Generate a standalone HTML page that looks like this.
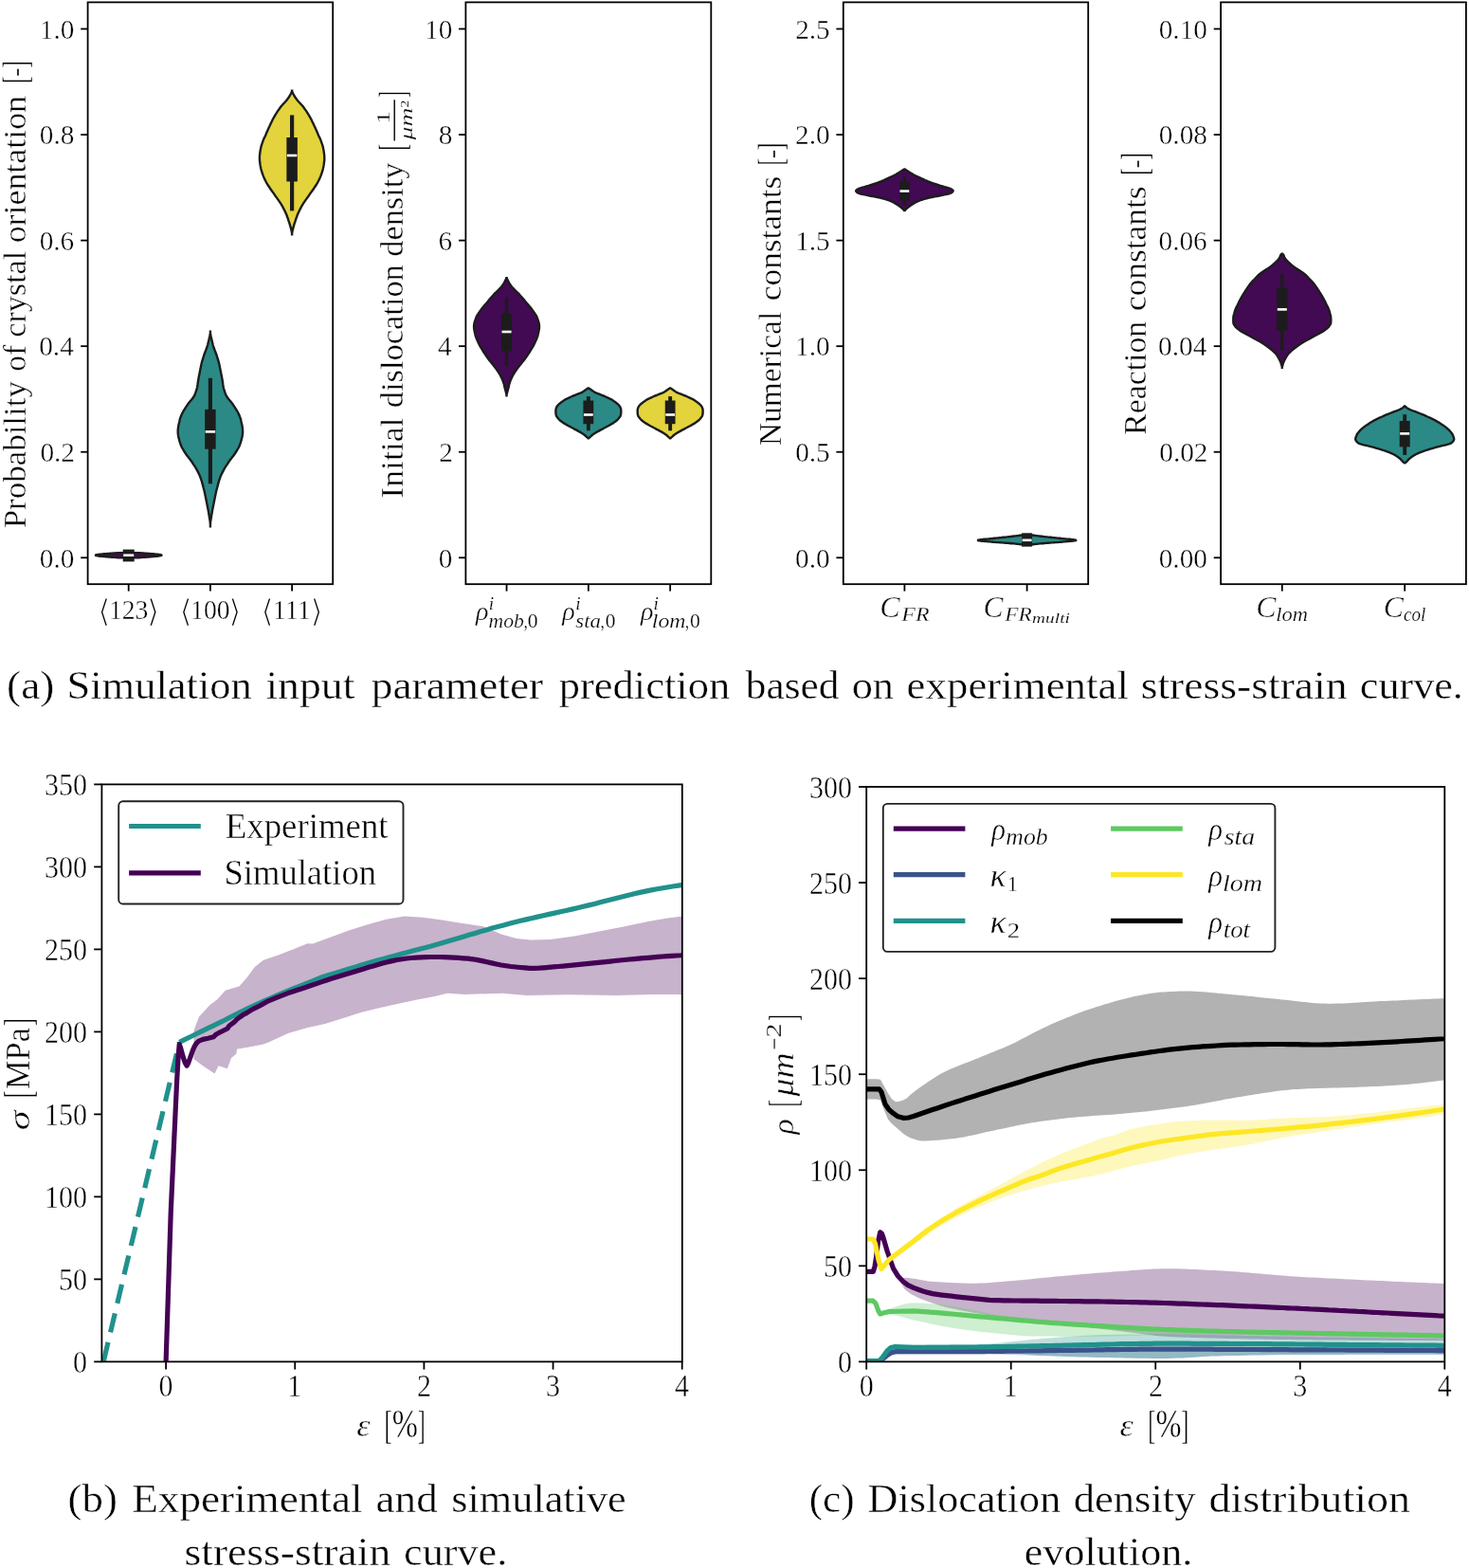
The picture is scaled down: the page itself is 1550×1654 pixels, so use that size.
<!DOCTYPE html>
<html lang="en"><head><meta charset="utf-8"><title>Figure</title>
<style>html,body{margin:0;padding:0;background:#fff;overflow:hidden}svg{display:block}text{white-space:pre}</style></head>
<body>
<svg width="1550" height="1654" viewBox="0 0 1550 1654" font-family="'Liberation Serif','DejaVu Serif',serif" fill="#000">
<style>text{stroke:#fff;paint-order:fill stroke;stroke-linejoin:round}</style>
<rect width="1550" height="1654" fill="#fff"/>
<g id="top-ticks">
<line x1="85.2" y1="588.3" x2="92.6" y2="588.3" stroke="#000" stroke-width="1.8"/>
<text font-size="29.3" transform="translate(41.87 598.6) scale(1 1)" stroke-width="0.41">0.0</text>
<line x1="85.2" y1="476.74" x2="92.6" y2="476.74" stroke="#000" stroke-width="1.8"/>
<text font-size="29.3" transform="translate(42.39 487.04) scale(1 1)" stroke-width="0.41">0.2</text>
<line x1="85.2" y1="365.18" x2="92.6" y2="365.18" stroke="#000" stroke-width="1.8"/>
<text font-size="29.3" transform="translate(41.21 375.48) scale(1 1)" stroke-width="0.41">0.4</text>
<line x1="85.2" y1="253.62" x2="92.6" y2="253.62" stroke="#000" stroke-width="1.8"/>
<text font-size="29.3" transform="translate(41.65 263.92) scale(1 1)" stroke-width="0.41">0.6</text>
<line x1="85.2" y1="142.06" x2="92.6" y2="142.06" stroke="#000" stroke-width="1.8"/>
<text font-size="29.3" transform="translate(41.87 152.36) scale(1 1)" stroke-width="0.41">0.8</text>
<line x1="85.2" y1="30.5" x2="92.6" y2="30.5" stroke="#000" stroke-width="1.8"/>
<text font-size="29.3" transform="translate(41.87 40.8) scale(1 1)" stroke-width="0.41">1.0</text>
<line x1="135.7" y1="616.2" x2="135.7" y2="623.6" stroke="#000" stroke-width="1.8"/>
<line x1="221.9" y1="616.2" x2="221.9" y2="623.6" stroke="#000" stroke-width="1.8"/>
<line x1="308.1" y1="616.2" x2="308.1" y2="623.6" stroke="#000" stroke-width="1.8"/>
<line x1="484" y1="588.3" x2="491.4" y2="588.3" stroke="#000" stroke-width="1.8"/>
<text font-size="29.3" transform="translate(462.65 598.6) scale(1 1)" stroke-width="0.41">0</text>
<line x1="484" y1="476.74" x2="491.4" y2="476.74" stroke="#000" stroke-width="1.8"/>
<text font-size="29.3" transform="translate(463.16 487.04) scale(1 1)" stroke-width="0.41">2</text>
<line x1="484" y1="365.18" x2="491.4" y2="365.18" stroke="#000" stroke-width="1.8"/>
<text font-size="29.3" transform="translate(461.99 375.48) scale(1 1)" stroke-width="0.41">4</text>
<line x1="484" y1="253.62" x2="491.4" y2="253.62" stroke="#000" stroke-width="1.8"/>
<text font-size="29.3" transform="translate(462.43 263.92) scale(1 1)" stroke-width="0.41">6</text>
<line x1="484" y1="142.06" x2="491.4" y2="142.06" stroke="#000" stroke-width="1.8"/>
<text font-size="29.3" transform="translate(462.65 152.36) scale(1 1)" stroke-width="0.41">8</text>
<line x1="484" y1="30.5" x2="491.4" y2="30.5" stroke="#000" stroke-width="1.8"/>
<text font-size="29.3" transform="translate(448 40.8) scale(1 1)" stroke-width="0.41">10</text>
<line x1="534.55" y1="616.2" x2="534.55" y2="623.6" stroke="#000" stroke-width="1.8"/>
<line x1="620.85" y1="616.2" x2="620.85" y2="623.6" stroke="#000" stroke-width="1.8"/>
<line x1="707.15" y1="616.2" x2="707.15" y2="623.6" stroke="#000" stroke-width="1.8"/>
<line x1="882.4" y1="588.3" x2="889.8" y2="588.3" stroke="#000" stroke-width="1.8"/>
<text font-size="29.3" transform="translate(839.07 598.6) scale(1 1)" stroke-width="0.41">0.0</text>
<line x1="882.4" y1="476.74" x2="889.8" y2="476.74" stroke="#000" stroke-width="1.8"/>
<text font-size="29.3" transform="translate(839.15 487.04) scale(1 1)" stroke-width="0.41">0.5</text>
<line x1="882.4" y1="365.18" x2="889.8" y2="365.18" stroke="#000" stroke-width="1.8"/>
<text font-size="29.3" transform="translate(839.07 375.48) scale(1 1)" stroke-width="0.41">1.0</text>
<line x1="882.4" y1="253.62" x2="889.8" y2="253.62" stroke="#000" stroke-width="1.8"/>
<text font-size="29.3" transform="translate(839.15 263.92) scale(1 1)" stroke-width="0.41">1.5</text>
<line x1="882.4" y1="142.06" x2="889.8" y2="142.06" stroke="#000" stroke-width="1.8"/>
<text font-size="29.3" transform="translate(839.07 152.36) scale(1 1)" stroke-width="0.41">2.0</text>
<line x1="882.4" y1="30.5" x2="889.8" y2="30.5" stroke="#000" stroke-width="1.8"/>
<text font-size="29.3" transform="translate(839.15 40.8) scale(1 1)" stroke-width="0.41">2.5</text>
<line x1="954.4" y1="616.2" x2="954.4" y2="623.6" stroke="#000" stroke-width="1.8"/>
<line x1="1083.6" y1="616.2" x2="1083.6" y2="623.6" stroke="#000" stroke-width="1.8"/>
<line x1="1280.7" y1="588.3" x2="1288.1" y2="588.3" stroke="#000" stroke-width="1.8"/>
<text font-size="29.3" transform="translate(1222.72 598.6) scale(1 1)" stroke-width="0.41">0.00</text>
<line x1="1280.7" y1="476.74" x2="1288.1" y2="476.74" stroke="#000" stroke-width="1.8"/>
<text font-size="29.3" transform="translate(1223.24 487.04) scale(1 1)" stroke-width="0.41">0.02</text>
<line x1="1280.7" y1="365.18" x2="1288.1" y2="365.18" stroke="#000" stroke-width="1.8"/>
<text font-size="29.3" transform="translate(1222.06 375.48) scale(1 1)" stroke-width="0.41">0.04</text>
<line x1="1280.7" y1="253.62" x2="1288.1" y2="253.62" stroke="#000" stroke-width="1.8"/>
<text font-size="29.3" transform="translate(1222.5 263.92) scale(1 1)" stroke-width="0.41">0.06</text>
<line x1="1280.7" y1="142.06" x2="1288.1" y2="142.06" stroke="#000" stroke-width="1.8"/>
<text font-size="29.3" transform="translate(1222.72 152.36) scale(1 1)" stroke-width="0.41">0.08</text>
<line x1="1280.7" y1="30.5" x2="1288.1" y2="30.5" stroke="#000" stroke-width="1.8"/>
<text font-size="29.3" transform="translate(1222.72 40.8) scale(1 1)" stroke-width="0.41">0.10</text>
<line x1="1352.8" y1="616.2" x2="1352.8" y2="623.6" stroke="#000" stroke-width="1.8"/>
<line x1="1482.2" y1="616.2" x2="1482.2" y2="623.6" stroke="#000" stroke-width="1.8"/>
</g>
<g id="violins">
<path d="M135.7 583L126.4 583.1L125.3 583.2L124.2 583.2L123.1 583.3L122 583.4L120.9 583.5L119.8 583.5L118.7 583.6L117.5 583.7L116.4 583.8L115.3 583.9L114.3 583.9L113.3 584L112.4 584.1L111.4 584.2L110.5 584.3L109.6 584.3L108.7 584.4L107.8 584.5L106.9 584.6L106.1 584.6L105.4 584.7L104.7 584.8L104.1 584.9L103.5 585L103.1 585L102.7 585.1L102.3 585.2L101.9 585.3L101.5 585.3L101.2 585.4L101 585.5L100.8 585.6L100.7 585.7L100.7 585.7L100.8 585.8L101 585.9L101.2 586L101.5 586.1L101.9 586.1L102.3 586.2L102.7 586.3L103.1 586.4L103.5 586.4L104.1 586.5L104.7 586.6L105.4 586.7L106.1 586.8L106.9 586.8L107.8 586.9L108.7 587L109.6 587.1L110.5 587.1L111.4 587.2L112.4 587.3L113.3 587.4L114.3 587.5L115.3 587.5L116.4 587.6L117.5 587.7L118.7 587.8L119.8 587.9L120.9 587.9L122 588L123.1 588.1L124.2 588.2L125.3 588.2L126.4 588.3L135.7 588.4L145 588.3L146.1 588.2L147.2 588.2L148.3 588.1L149.4 588L150.5 587.9L151.6 587.9L152.7 587.8L153.9 587.7L155 587.6L156.1 587.5L157.1 587.5L158.1 587.4L159 587.3L160 587.2L160.9 587.1L161.8 587.1L162.7 587L163.6 586.9L164.5 586.8L165.3 586.8L166 586.7L166.7 586.6L167.3 586.5L167.9 586.4L168.3 586.4L168.7 586.3L169.1 586.2L169.5 586.1L169.9 586.1L170.2 586L170.4 585.9L170.6 585.8L170.7 585.7L170.7 585.7L170.6 585.6L170.4 585.5L170.2 585.4L169.9 585.3L169.5 585.3L169.1 585.2L168.7 585.1L168.3 585L167.9 585L167.3 584.9L166.7 584.8L166 584.7L165.3 584.6L164.5 584.6L163.6 584.5L162.7 584.4L161.8 584.3L160.9 584.3L160 584.2L159 584.1L158.1 584L157.1 583.9L156.1 583.9L155 583.8L153.9 583.7L152.7 583.6L151.6 583.5L150.5 583.5L149.4 583.4L148.3 583.3L147.2 583.2L146.1 583.2L145 583.1Z" fill="#420a52" stroke="#1c1c1c" stroke-width="2.4" stroke-linejoin="bevel"/>
<rect x="129.7" y="579.6" width="12" height="12.8" fill="#1c1c1c"/>
<rect x="130.2" y="584.4" width="11" height="2.6" fill="#fff"/>
<path d="M221.9 348.4L221.9 351.4L221.3 354.4L220.6 357.5L219.9 360.5L219.2 363.5L218.3 366.5L217.2 369.5L216 372.5L215 375.5L214 378.6L213.1 381.6L212.4 384.6L211.8 387.6L211.2 390.6L210.6 393.6L210 396.6L209.4 399.7L208.9 402.7L208.5 405.7L208 408.7L207.2 411.7L206.2 414.7L204.9 417.7L202.8 420.7L200.2 423.8L197.9 426.8L195.9 429.8L194 432.8L192.4 435.8L191 438.8L189.9 441.8L189.2 444.9L188.5 447.9L188 450.9L187.7 453.9L187.7 456.9L188.1 459.9L188.8 462.9L189.6 465.9L190.6 469L191.9 472L193.7 475L195.6 478L197.7 481L200.1 484L202.3 487L204.3 490.1L206.3 493.1L208 496.1L209.5 499.1L210.9 502.1L212 505.1L213 508.1L213.8 511.1L214.6 514.2L215.4 517.2L216.1 520.2L216.7 523.2L217.3 526.2L217.9 529.2L218.5 532.2L219.1 535.3L219.7 538.3L220.2 541.3L220.7 544.3L221.2 547.3L221.7 550.3L221.9 553.3L221.9 556.4L221.9 553.3L222.1 550.3L222.6 547.3L223.1 544.3L223.6 541.3L224.1 538.3L224.7 535.3L225.3 532.2L225.9 529.2L226.5 526.2L227.1 523.2L227.7 520.2L228.4 517.2L229.2 514.2L230 511.1L230.8 508.1L231.8 505.1L232.9 502.1L234.3 499.1L235.8 496.1L237.5 493.1L239.5 490.1L241.5 487L243.7 484L246.1 481L248.2 478L250.1 475L251.9 472L253.2 469L254.2 465.9L255 462.9L255.7 459.9L256.1 456.9L256.1 453.9L255.8 450.9L255.3 447.9L254.6 444.9L253.9 441.8L252.8 438.8L251.4 435.8L249.8 432.8L247.9 429.8L245.9 426.8L243.6 423.8L241 420.7L238.9 417.7L237.6 414.7L236.6 411.7L235.8 408.7L235.3 405.7L234.9 402.7L234.4 399.7L233.8 396.6L233.2 393.6L232.6 390.6L232 387.6L231.4 384.6L230.7 381.6L229.8 378.6L228.8 375.5L227.8 372.5L226.6 369.5L225.5 366.5L224.6 363.5L223.9 360.5L223.2 357.5L222.5 354.4L221.9 351.4Z" fill="#2b8a86" stroke="#1c1c1c" stroke-width="2.4" stroke-linejoin="bevel"/>
<line x1="221.9" y1="398.8" x2="221.9" y2="510.3" stroke="#1c1c1c" stroke-width="4.2"/>
<rect x="216.15" y="431.9" width="11.5" height="41.8" fill="#1c1c1c"/>
<rect x="216.65" y="454.1" width="10.5" height="2.6" fill="#fff"/>
<path d="M308.1 94.6L307.9 96.8L306.8 99L305.6 101.3L304.1 103.5L302.4 105.7L300.5 108L298.4 110.2L296.4 112.4L294.8 114.7L293.2 116.9L291.8 119.1L290.4 121.4L289.1 123.6L287.9 125.8L286.8 128.1L285.7 130.3L284.7 132.5L283.6 134.7L282.6 137L281.6 139.2L280.7 141.4L279.7 143.7L278.6 145.9L277.7 148.1L276.9 150.4L276.1 152.6L275.5 154.8L275 157.1L274.6 159.3L274.3 161.5L274 163.8L273.9 166L273.9 168.2L274.1 170.5L274.4 172.7L274.7 174.9L275.2 177.2L275.7 179.4L276.4 181.6L277.1 183.8L278 186.1L278.9 188.3L280 190.5L281.2 192.8L282.5 195L284 197.2L285.5 199.5L287.1 201.7L288.7 203.9L290.2 206.2L291.8 208.4L293.4 210.6L295 212.9L296.5 215.1L297.8 217.3L299 219.6L300.1 221.8L301.2 224L302.2 226.2L303 228.5L303.8 230.7L304.5 232.9L305.3 235.2L306 237.4L306.6 239.6L307.2 241.9L307.7 244.1L308.1 246.3L308.1 248.6L308.1 246.3L308.5 244.1L309 241.9L309.6 239.6L310.2 237.4L310.9 235.2L311.7 232.9L312.4 230.7L313.2 228.5L314 226.2L315 224L316.1 221.8L317.2 219.6L318.4 217.3L319.7 215.1L321.2 212.9L322.8 210.6L324.4 208.4L326 206.2L327.5 203.9L329.1 201.7L330.7 199.5L332.2 197.2L333.7 195L335 192.8L336.2 190.5L337.3 188.3L338.2 186.1L339.1 183.8L339.8 181.6L340.5 179.4L341 177.2L341.5 174.9L341.8 172.7L342.1 170.5L342.3 168.2L342.3 166L342.2 163.8L341.9 161.5L341.6 159.3L341.2 157.1L340.7 154.8L340.1 152.6L339.3 150.4L338.5 148.1L337.6 145.9L336.5 143.7L335.5 141.4L334.6 139.2L333.6 137L332.6 134.7L331.5 132.5L330.5 130.3L329.4 128.1L328.3 125.8L327.1 123.6L325.8 121.4L324.4 119.1L323 116.9L321.4 114.7L319.8 112.4L317.8 110.2L315.7 108L313.8 105.7L312.1 103.5L310.6 101.3L309.4 99L308.3 96.8Z" fill="#e3d33c" stroke="#1c1c1c" stroke-width="2.4" stroke-linejoin="bevel"/>
<line x1="308.1" y1="121.4" x2="308.1" y2="222.4" stroke="#1c1c1c" stroke-width="4.2"/>
<rect x="302.35" y="145" width="11.5" height="46.5" fill="#1c1c1c"/>
<rect x="302.85" y="162.7" width="10.5" height="2.6" fill="#fff"/>
<path d="M534.5 292.4L534 294.2L533.1 296L532.2 297.8L531.1 299.7L529.9 301.5L528.4 303.3L526.6 305.2L524.7 307L522.8 308.8L521 310.7L519.4 312.5L517.8 314.3L516.3 316.1L514.8 318L513.3 319.8L511.7 321.6L510.1 323.5L508.6 325.3L507.3 327.1L506 329L504.7 330.8L503.5 332.6L502.6 334.4L501.9 336.3L501.3 338.1L500.7 339.9L500.3 341.8L500.1 343.6L500.1 345.4L500.3 347.3L500.6 349.1L501 350.9L501.4 352.7L501.8 354.6L502.5 356.4L503.2 358.2L504.1 360.1L504.9 361.9L505.8 363.7L506.8 365.6L507.9 367.4L509 369.2L510.1 371L511.3 372.9L512.5 374.7L513.8 376.5L515.1 378.4L516.5 380.2L518 382L519.5 383.9L521 385.7L522.3 387.5L523.7 389.3L525 391.2L526.2 393L527.3 394.8L528.3 396.7L529.2 398.5L530 400.3L530.8 402.2L531.4 404L531.9 405.8L532.3 407.7L532.7 409.5L533.2 411.3L533.7 413.1L534.2 415L534.5 416.8L534.5 418.6L534.5 416.8L534.9 415L535.4 413.1L535.9 411.3L536.4 409.5L536.8 407.7L537.2 405.8L537.7 404L538.3 402.2L539.1 400.3L539.9 398.5L540.8 396.7L541.8 394.8L542.9 393L544.1 391.2L545.4 389.3L546.8 387.5L548.1 385.7L549.6 383.9L551.1 382L552.6 380.2L554 378.4L555.3 376.5L556.6 374.7L557.8 372.9L559 371L560.1 369.2L561.2 367.4L562.3 365.6L563.3 363.7L564.2 361.9L565 360.1L565.9 358.2L566.6 356.4L567.3 354.6L567.7 352.7L568.1 350.9L568.5 349.1L568.8 347.3L569 345.4L569 343.6L568.8 341.8L568.4 339.9L567.8 338.1L567.2 336.3L566.5 334.4L565.6 332.6L564.4 330.8L563.1 329L561.8 327.1L560.5 325.3L559 323.5L557.4 321.6L555.8 319.8L554.3 318L552.8 316.1L551.3 314.3L549.7 312.5L548.1 310.7L546.3 308.8L544.4 307L542.5 305.2L540.7 303.3L539.2 301.5L538 299.7L536.9 297.8L536 296L535.1 294.2Z" fill="#420a52" stroke="#1c1c1c" stroke-width="2.4" stroke-linejoin="bevel"/>
<line x1="534.55" y1="313.5" x2="534.55" y2="386.5" stroke="#1c1c1c" stroke-width="3.4"/>
<rect x="529.05" y="330.7" width="11" height="39.8" fill="#1c1c1c"/>
<rect x="529.55" y="348.7" width="10" height="2.6" fill="#fff"/>
<path d="M620.8 409.2L619.7 410L618.6 410.8L617.5 411.5L616.5 412.3L615.3 413.1L614 413.9L612.3 414.6L610.3 415.4L608.3 416.2L606.4 417L604.5 417.7L602.7 418.5L600.9 419.3L599.2 420.1L597.6 420.8L596.2 421.6L594.9 422.4L593.8 423.2L592.7 423.9L591.8 424.7L590.8 425.5L589.9 426.2L589.1 427L588.4 427.8L587.8 428.6L587.3 429.3L587 430.1L586.7 430.9L586.6 431.7L586.4 432.4L586.4 433.2L586.4 434L586.4 434.8L586.4 435.5L586.5 436.3L586.6 437.1L586.8 437.9L587 438.6L587.4 439.4L588 440.2L588.6 440.9L589.2 441.7L589.9 442.5L590.7 443.3L591.6 444L592.6 444.8L593.7 445.6L594.9 446.4L596.2 447.1L597.5 447.9L598.9 448.7L600.3 449.5L601.8 450.2L603.2 451L604.7 451.8L606.1 452.6L607.6 453.3L609 454.1L610.4 454.9L611.8 455.6L613.2 456.4L614.5 457.2L615.6 458L616.6 458.7L617.5 459.5L618.4 460.3L619.3 461.1L620.1 461.8L620.8 462.6L621.6 461.8L622.4 461.1L623.3 460.3L624.2 459.5L625.1 458.7L626.1 458L627.2 457.2L628.5 456.4L629.9 455.6L631.3 454.9L632.7 454.1L634.1 453.3L635.6 452.6L637 451.8L638.5 451L639.9 450.2L641.4 449.5L642.8 448.7L644.2 447.9L645.5 447.1L646.8 446.4L648 445.6L649.1 444.8L650.1 444L651 443.3L651.8 442.5L652.5 441.7L653.1 440.9L653.7 440.2L654.3 439.4L654.7 438.6L654.9 437.9L655.1 437.1L655.2 436.3L655.3 435.5L655.3 434.8L655.3 434L655.3 433.2L655.3 432.4L655.1 431.7L655 430.9L654.7 430.1L654.4 429.3L653.9 428.6L653.3 427.8L652.6 427L651.8 426.2L650.9 425.5L649.9 424.7L649 423.9L647.9 423.2L646.8 422.4L645.5 421.6L644.1 420.8L642.5 420.1L640.8 419.3L639 418.5L637.2 417.7L635.3 417L633.4 416.2L631.4 415.4L629.4 414.6L627.7 413.9L626.4 413.1L625.2 412.3L624.2 411.5L623.1 410.8L622 410Z" fill="#2b8a86" stroke="#1c1c1c" stroke-width="2.4" stroke-linejoin="bevel"/>
<line x1="620.85" y1="418.1" x2="620.85" y2="454.3" stroke="#1c1c1c" stroke-width="3.9"/>
<rect x="615.45" y="422.5" width="10.8" height="24.7" fill="#1c1c1c"/>
<rect x="615.95" y="436.2" width="9.8" height="2.6" fill="#fff"/>
<path d="M707.1 409.2L706 410L704.9 410.8L703.8 411.5L702.8 412.3L701.6 413.1L700.3 413.9L698.6 414.6L696.6 415.4L694.6 416.2L692.7 417L690.8 417.7L689 418.5L687.2 419.3L685.5 420.1L683.9 420.8L682.5 421.6L681.2 422.4L680.1 423.2L679 423.9L678.1 424.7L677.1 425.5L676.2 426.2L675.4 427L674.7 427.8L674.1 428.6L673.6 429.3L673.3 430.1L673 430.9L672.9 431.7L672.7 432.4L672.7 433.2L672.7 434L672.7 434.8L672.7 435.5L672.8 436.3L672.9 437.1L673.1 437.9L673.3 438.6L673.7 439.4L674.3 440.2L674.9 440.9L675.5 441.7L676.2 442.5L677 443.3L677.9 444L678.9 444.8L680 445.6L681.2 446.4L682.5 447.1L683.8 447.9L685.2 448.7L686.6 449.5L688.1 450.2L689.5 451L691 451.8L692.4 452.6L693.9 453.3L695.3 454.1L696.7 454.9L698.1 455.6L699.5 456.4L700.8 457.2L701.9 458L702.9 458.7L703.8 459.5L704.7 460.3L705.6 461.1L706.4 461.8L707.1 462.6L707.9 461.8L708.7 461.1L709.6 460.3L710.5 459.5L711.4 458.7L712.4 458L713.5 457.2L714.8 456.4L716.2 455.6L717.6 454.9L719 454.1L720.4 453.3L721.9 452.6L723.3 451.8L724.8 451L726.2 450.2L727.7 449.5L729.1 448.7L730.5 447.9L731.8 447.1L733.1 446.4L734.3 445.6L735.4 444.8L736.4 444L737.3 443.3L738.1 442.5L738.8 441.7L739.4 440.9L740 440.2L740.6 439.4L741 438.6L741.2 437.9L741.4 437.1L741.5 436.3L741.6 435.5L741.6 434.8L741.6 434L741.6 433.2L741.6 432.4L741.4 431.7L741.3 430.9L741 430.1L740.7 429.3L740.2 428.6L739.6 427.8L738.9 427L738.1 426.2L737.2 425.5L736.2 424.7L735.3 423.9L734.2 423.2L733.1 422.4L731.8 421.6L730.4 420.8L728.8 420.1L727.1 419.3L725.3 418.5L723.5 417.7L721.6 417L719.7 416.2L717.7 415.4L715.7 414.6L714 413.9L712.7 413.1L711.5 412.3L710.5 411.5L709.4 410.8L708.3 410Z" fill="#e3d33c" stroke="#1c1c1c" stroke-width="2.4" stroke-linejoin="bevel"/>
<line x1="707.15" y1="418.1" x2="707.15" y2="454.3" stroke="#1c1c1c" stroke-width="3.9"/>
<rect x="701.75" y="422.5" width="10.8" height="24.7" fill="#1c1c1c"/>
<rect x="702.25" y="436.2" width="9.8" height="2.6" fill="#fff"/>
<path d="M954.4 178.4L953.2 179L952.3 179.7L951.3 180.3L950.3 181L949.3 181.6L948.3 182.2L947.2 182.9L946.1 183.5L945 184.2L943.8 184.8L942.5 185.5L941.1 186.1L939.7 186.8L938.3 187.4L936.9 188L935.5 188.7L934.1 189.3L932.7 190L931.2 190.6L929.7 191.3L928.1 191.9L926.4 192.6L924.6 193.2L922.7 193.8L920.7 194.5L918.7 195.1L916.6 195.8L914.5 196.4L912.3 197.1L910.1 197.7L908.1 198.3L906.2 199L904.7 199.6L903.9 200.3L903.3 200.9L903.1 201.6L903.5 202.2L904.3 202.9L905.2 203.5L906.7 204.1L909.2 204.8L912.4 205.4L915.5 206.1L918.8 206.7L922.4 207.4L925.7 208L928.5 208.7L931.1 209.3L933.5 209.9L935.6 210.6L937.5 211.2L939.2 211.9L940.6 212.5L942 213.2L943.2 213.8L944.4 214.5L945.5 215.1L946.5 215.7L947.5 216.4L948.5 217L949.4 217.7L950.2 218.3L951 219L951.7 219.6L952.4 220.2L953.1 220.9L953.7 221.5L954.2 222.2L954.4 222.8L954.6 222.2L955.1 221.5L955.7 220.9L956.4 220.2L957.1 219.6L957.8 219L958.6 218.3L959.4 217.7L960.3 217L961.3 216.4L962.3 215.7L963.3 215.1L964.4 214.5L965.6 213.8L966.8 213.2L968.2 212.5L969.6 211.9L971.3 211.2L973.2 210.6L975.3 209.9L977.7 209.3L980.3 208.7L983.1 208L986.4 207.4L990 206.7L993.3 206.1L996.4 205.4L999.6 204.8L1002.1 204.1L1003.6 203.5L1004.5 202.9L1005.3 202.2L1005.7 201.6L1005.5 200.9L1004.9 200.3L1004.1 199.6L1002.6 199L1000.7 198.3L998.7 197.7L996.5 197.1L994.3 196.4L992.2 195.8L990.1 195.1L988.1 194.5L986.1 193.8L984.2 193.2L982.4 192.6L980.7 191.9L979.1 191.3L977.6 190.6L976.1 190L974.7 189.3L973.3 188.7L971.9 188L970.5 187.4L969.1 186.8L967.7 186.1L966.3 185.5L965 184.8L963.8 184.2L962.7 183.5L961.6 182.9L960.5 182.2L959.5 181.6L958.5 181L957.5 180.3L956.5 179.7L955.6 179Z" fill="#420a52" stroke="#1c1c1c" stroke-width="2.4" stroke-linejoin="bevel"/>
<line x1="954.4" y1="186.5" x2="954.4" y2="216.5" stroke="#1c1c1c" stroke-width="3.4"/>
<rect x="949" y="191.3" width="10.8" height="20.1" fill="#1c1c1c"/>
<rect x="949.5" y="200.3" width="9.8" height="2.6" fill="#fff"/>
<path d="M1083.6 564.4L1077.9 564.5L1076.9 564.7L1075.9 564.8L1074.8 565L1073.7 565.1L1072.5 565.3L1071.4 565.4L1070.2 565.5L1069 565.7L1067.8 565.8L1066.5 566L1065.2 566.1L1063.9 566.3L1062.6 566.4L1061.2 566.6L1059.8 566.7L1058.4 566.8L1057 567L1055.5 567.1L1054.1 567.3L1052.7 567.4L1051.4 567.6L1050 567.7L1048.7 567.8L1047.4 568L1046 568.1L1044.5 568.3L1042.9 568.4L1041.3 568.6L1039.8 568.7L1038.2 568.8L1036.8 569L1035.4 569.1L1034.2 569.3L1033.2 569.4L1032.4 569.6L1031.9 569.7L1031.6 569.9L1031.7 570L1032.1 570.1L1032.8 570.3L1033.7 570.4L1034.9 570.6L1036.3 570.7L1037.8 570.9L1039.4 571L1041 571.1L1042.7 571.3L1044.4 571.4L1045.9 571.6L1047.5 571.7L1049.2 571.9L1051.1 572L1053.1 572.1L1055.2 572.3L1057.3 572.4L1059.3 572.6L1061.4 572.7L1063.3 572.9L1065.1 573L1066.8 573.2L1068.4 573.3L1070 573.4L1071.5 573.6L1073 573.7L1074.4 573.9L1075.7 574L1077 574.2L1083.6 574.3L1090.2 574.2L1091.5 574L1092.8 573.9L1094.2 573.7L1095.7 573.6L1097.2 573.4L1098.8 573.3L1100.4 573.2L1102.1 573L1103.9 572.9L1105.8 572.7L1107.9 572.6L1109.9 572.4L1112 572.3L1114.1 572.1L1116.1 572L1118 571.9L1119.7 571.7L1121.3 571.6L1122.8 571.4L1124.5 571.3L1126.2 571.1L1127.8 571L1129.4 570.9L1130.9 570.7L1132.3 570.6L1133.5 570.4L1134.4 570.3L1135.1 570.1L1135.5 570L1135.6 569.9L1135.3 569.7L1134.8 569.6L1134 569.4L1133 569.3L1131.8 569.1L1130.4 569L1129 568.8L1127.4 568.7L1125.9 568.6L1124.3 568.4L1122.7 568.3L1121.2 568.1L1119.8 568L1118.5 567.8L1117.2 567.7L1115.8 567.6L1114.5 567.4L1113.1 567.3L1111.7 567.1L1110.2 567L1108.8 566.8L1107.4 566.7L1106 566.6L1104.6 566.4L1103.3 566.3L1102 566.1L1100.7 566L1099.4 565.8L1098.2 565.7L1097 565.5L1095.8 565.4L1094.7 565.3L1093.5 565.1L1092.4 565L1091.3 564.8L1090.3 564.7L1089.3 564.5Z" fill="#2b8a86" stroke="#1c1c1c" stroke-width="2.4" stroke-linejoin="bevel"/>
<rect x="1078.1" y="562.3" width="11" height="14.3" fill="#1c1c1c"/>
<rect x="1078.6" y="568.5" width="10" height="2.6" fill="#fff"/>
<path d="M1352.8 267.3L1351.2 269.1L1350.5 270.9L1349.7 272.6L1348.3 274.4L1346.5 276.2L1344.6 277.9L1342.6 279.7L1340.4 281.4L1337.7 283.2L1334.9 285L1332.3 286.7L1329.9 288.5L1327.8 290.2L1326 292L1324.4 293.8L1322.6 295.5L1321 297.3L1319.5 299.1L1318.2 300.8L1316.9 302.6L1315.7 304.3L1314.5 306.1L1313.4 307.9L1312.3 309.6L1311.2 311.4L1310.2 313.1L1309.2 314.9L1308.3 316.7L1307.3 318.4L1306.5 320.2L1305.6 322L1304.7 323.7L1303.9 325.5L1303.3 327.2L1302.7 329L1302.2 330.8L1301.7 332.5L1301.4 334.3L1301.3 336L1301.3 337.8L1301.3 339.6L1301.5 341.3L1302.5 343.1L1303.7 344.9L1305.6 346.6L1307.9 348.4L1310.7 350.1L1314 351.9L1317.3 353.7L1320.5 355.4L1323.6 357.2L1326.9 359L1330.1 360.7L1332.9 362.5L1335.5 364.2L1337.9 366L1340.2 367.8L1342.4 369.5L1344.3 371.3L1346 373L1347.4 374.8L1348.5 376.6L1349.4 378.3L1350.4 380.1L1351.2 381.9L1351.8 383.6L1352.3 385.4L1352.8 387.1L1352.8 388.9L1352.8 387.1L1353.3 385.4L1353.8 383.6L1354.4 381.9L1355.2 380.1L1356.2 378.3L1357.1 376.6L1358.2 374.8L1359.6 373L1361.3 371.3L1363.2 369.5L1365.4 367.8L1367.7 366L1370.1 364.2L1372.7 362.5L1375.5 360.7L1378.7 359L1382 357.2L1385.1 355.4L1388.3 353.7L1391.6 351.9L1394.9 350.1L1397.7 348.4L1400 346.6L1401.9 344.9L1403.1 343.1L1404.1 341.3L1404.3 339.6L1404.3 337.8L1404.3 336L1404.2 334.3L1403.9 332.5L1403.4 330.8L1402.9 329L1402.3 327.2L1401.7 325.5L1400.9 323.7L1400 322L1399.1 320.2L1398.3 318.4L1397.3 316.7L1396.4 314.9L1395.4 313.1L1394.4 311.4L1393.3 309.6L1392.2 307.9L1391.1 306.1L1389.9 304.3L1388.7 302.6L1387.4 300.8L1386.1 299.1L1384.6 297.3L1383 295.5L1381.2 293.8L1379.6 292L1377.8 290.2L1375.7 288.5L1373.3 286.7L1370.7 285L1367.9 283.2L1365.2 281.4L1363 279.7L1361 277.9L1359.1 276.2L1357.3 274.4L1355.9 272.6L1355.1 270.9L1354.4 269.1Z" fill="#420a52" stroke="#1c1c1c" stroke-width="2.4" stroke-linejoin="bevel"/>
<line x1="1352.8" y1="288" x2="1352.8" y2="370" stroke="#1c1c1c" stroke-width="3.4"/>
<rect x="1347.3" y="304" width="11" height="44.9" fill="#1c1c1c"/>
<rect x="1347.8" y="325.1" width="10" height="2.6" fill="#fff"/>
<path d="M1482.2 428.1L1481.4 429L1480.4 429.9L1479.1 430.7L1477.6 431.6L1475.6 432.5L1473.5 433.4L1471.1 434.2L1468.8 435.1L1466.5 436L1464.4 436.9L1462.3 437.7L1460.2 438.6L1458.3 439.5L1456.3 440.4L1454.4 441.2L1452.6 442.1L1450.9 443L1449.3 443.9L1447.8 444.8L1446.3 445.6L1444.9 446.5L1443.6 447.4L1442.3 448.3L1441 449.1L1439.8 450L1438.6 450.9L1437.6 451.8L1436.6 452.6L1435.6 453.5L1434.8 454.4L1434 455.3L1433.3 456.2L1432.6 457L1432 457.9L1431.5 458.8L1431.2 459.7L1430.8 460.5L1430.6 461.4L1430.3 462.3L1430.2 463.2L1430.3 464L1430.8 464.9L1431.5 465.8L1432.4 466.7L1433.5 467.6L1435.6 468.4L1438.9 469.3L1442.7 470.2L1446.4 471.1L1449.5 471.9L1452.5 472.8L1455.5 473.7L1458.4 474.6L1461 475.4L1463.5 476.3L1465.8 477.2L1468 478.1L1469.9 479L1471.6 479.8L1473 480.7L1474.3 481.6L1475.5 482.5L1476.6 483.3L1477.6 484.2L1478.5 485.1L1479.3 486L1480.1 486.8L1481 487.7L1482.2 488.6L1483.4 487.7L1484.3 486.8L1485.1 486L1485.9 485.1L1486.8 484.2L1487.8 483.3L1488.9 482.5L1490.1 481.6L1491.4 480.7L1492.8 479.8L1494.5 479L1496.4 478.1L1498.6 477.2L1500.9 476.3L1503.4 475.4L1506 474.6L1508.9 473.7L1511.9 472.8L1514.9 471.9L1518 471.1L1521.7 470.2L1525.5 469.3L1528.8 468.4L1530.9 467.6L1532 466.7L1532.9 465.8L1533.6 464.9L1534.1 464L1534.2 463.2L1534.1 462.3L1533.8 461.4L1533.6 460.5L1533.2 459.7L1532.9 458.8L1532.4 457.9L1531.8 457L1531.1 456.2L1530.4 455.3L1529.6 454.4L1528.8 453.5L1527.8 452.6L1526.8 451.8L1525.8 450.9L1524.6 450L1523.4 449.1L1522.1 448.3L1520.8 447.4L1519.5 446.5L1518.1 445.6L1516.6 444.8L1515.1 443.9L1513.5 443L1511.8 442.1L1510 441.2L1508.1 440.4L1506.1 439.5L1504.2 438.6L1502.1 437.7L1500 436.9L1497.9 436L1495.6 435.1L1493.3 434.2L1490.9 433.4L1488.8 432.5L1486.8 431.6L1485.3 430.7L1484 429.9L1483 429Z" fill="#2b8a86" stroke="#1c1c1c" stroke-width="2.4" stroke-linejoin="bevel"/>
<line x1="1482.2" y1="437.2" x2="1482.2" y2="480" stroke="#1c1c1c" stroke-width="3.9"/>
<rect x="1476.7" y="444" width="11" height="27.4" fill="#1c1c1c"/>
<rect x="1477.2" y="456.1" width="10" height="2.6" fill="#fff"/>
</g>
<rect x="92.6" y="2.4" width="258.6" height="613.8" fill="none" stroke="#000" stroke-width="1.8"/>
<rect x="491.4" y="2.4" width="258.9" height="613.8" fill="none" stroke="#000" stroke-width="1.8"/>
<rect x="889.8" y="2.4" width="258.4" height="613.8" fill="none" stroke="#000" stroke-width="1.8"/>
<rect x="1288.1" y="2.4" width="258.8" height="613.8" fill="none" stroke="#000" stroke-width="1.8"/>
<g id="top-xlabels">
<text font-size="33.17" transform="translate(102.95 655.61) scale(1.0553 1)" stroke-width="1.25">⟨</text>
<text font-size="29.3" transform="translate(114.88 652.9) scale(0.9449 1)" stroke-width="0.41">123</text>
<text font-size="33.17" transform="translate(154.8 655.61) scale(1.0553 1)" stroke-width="1.25">⟩</text>
<text font-size="33.17" transform="translate(189.15 655.61) scale(1.0553 1)" stroke-width="1.25">⟨</text>
<text font-size="29.3" transform="translate(201.08 652.9) scale(0.9432 1)" stroke-width="0.41">100</text>
<text font-size="33.17" transform="translate(241 655.61) scale(1.0553 1)" stroke-width="1.25">⟩</text>
<text font-size="33.17" transform="translate(275.35 655.61) scale(1.0553 1)" stroke-width="1.25">⟨</text>
<text font-size="29.3" transform="translate(287.63 652.9) scale(0.9618 1)" stroke-width="0.41">111</text>
<text font-size="33.17" transform="translate(327.2 655.61) scale(1.0553 1)" stroke-width="1.25">⟩</text>
<text font-size="27.84" transform="translate(502 654.48) scale(1.0058 1)" font-style="italic" stroke-width="0.38">ρ</text>
<text font-size="19.3" transform="translate(515.73 643.3) scale(1 1)" font-style="italic" stroke-width="0.22">i</text>
<text font-size="20.2" transform="translate(515.54 661.9) scale(1.0722 1)" font-style="italic" stroke-width="0.23">mob</text>
<text font-size="20.2" transform="translate(552.8 661.9) scale(0.7921 1)" stroke-width="0.23">,</text>
<text font-size="20.2" transform="translate(556.69 661.9) scale(1.0716 1)" stroke-width="0.23">0</text>
<text font-size="27.84" transform="translate(593.3 654.48) scale(1.0058 1)" font-style="italic" stroke-width="0.38">ρ</text>
<text font-size="19.3" transform="translate(607.23 643.3) scale(1 1)" font-style="italic" stroke-width="0.22">i</text>
<text font-size="20.2" transform="translate(607.31 661.9) scale(1.1341 1)" font-style="italic" stroke-width="0.23">sta</text>
<text font-size="20.2" transform="translate(633.8 661.9) scale(0.7921 1)" stroke-width="0.23">,</text>
<text font-size="20.2" transform="translate(638.7 661.9) scale(1.06 1)" stroke-width="0.23">0</text>
<text font-size="27.84" transform="translate(675.9 654.48) scale(1.0058 1)" font-style="italic" stroke-width="0.38">ρ</text>
<text font-size="19.3" transform="translate(689.48 643.3) scale(1 1)" font-style="italic" stroke-width="0.22">i</text>
<text font-size="20.2" transform="translate(687.85 661.9) scale(1.1768 1)" font-style="italic" stroke-width="0.23">lom</text>
<text font-size="20.2" transform="translate(723.1 661.9) scale(0.7921 1)" stroke-width="0.23">,</text>
<text font-size="20.2" transform="translate(727.99 661.9) scale(1.0716 1)" stroke-width="0.23">0</text>
<text font-size="31.08" transform="translate(928.23 650.99) scale(1.0338 1)" font-style="italic" stroke-width="0.42">C</text>
<text font-size="21.68" transform="translate(951.32 654.6) scale(1.1055 1)" font-style="italic" stroke-width="0.26">FR</text>
<text font-size="31.08" transform="translate(1037.47 650.99) scale(1.0131 1)" font-style="italic" stroke-width="0.42">C</text>
<text font-size="21.68" transform="translate(1060.32 654.6) scale(1.075 1)" font-style="italic" stroke-width="0.26">FR</text>
<text font-size="13.6" transform="translate(1089.12 657.2) scale(1.4226 1)" font-style="italic" stroke-width="0.13">multi</text>
<text font-size="31.08" transform="translate(1325.34 650.99) scale(1.0286 1)" font-style="italic" stroke-width="0.42">C</text>
<text font-size="20.2" transform="translate(1346.22 654.5) scale(1.1134 1)" font-style="italic" stroke-width="0.23">lom</text>
<text font-size="31.08" transform="translate(1459.85 650.99) scale(1.0235 1)" font-style="italic" stroke-width="0.42">C</text>
<text font-size="20.2" transform="translate(1481.03 654.5) scale(0.9436 1)" font-style="italic" stroke-width="0.23">col</text>
</g>
<g id="top-ylabels">
<text font-size="34" transform="translate(26.5 557.36) rotate(-90) scale(1.0286 1)" stroke-width="0.42">Probability </text>
<text font-size="34" transform="translate(26.5 391.86) rotate(-90) scale(0.9878 1)" stroke-width="0.42">of </text>
<text font-size="34" transform="translate(26.5 355.68) rotate(-90) scale(1.0028 1)" stroke-width="0.42">crystal </text>
<text font-size="34" transform="translate(26.5 256.34) rotate(-90) scale(1.0548 1)" stroke-width="0.42">orientation</text>
<text font-size="38.92" transform="translate(29.05 87.89) rotate(-90) scale(0.5775 1)" stroke-width="0.42">[</text>
<text font-size="26.67" transform="translate(25.37 80.88) rotate(-90) scale(1.0817 1)" stroke-width="0.35">-</text>
<text font-size="38.92" transform="translate(29.05 71.68) rotate(-90) scale(0.571 1)" stroke-width="0.42">]</text>
<text font-size="34" transform="translate(425 525.75) rotate(-90) scale(1.0504 1)" stroke-width="0.42">Initial </text>
<text font-size="34" transform="translate(425 430.31) rotate(-90) scale(1.0131 1)" stroke-width="0.42">dislocation </text>
<text font-size="34" transform="translate(425 270.7) rotate(-90) scale(1.0094 1)" stroke-width="0.42">density</text>
<text font-size="39.4" transform="translate(427.78 158.48) rotate(-90) scale(0.5019 1)" stroke-width="0.42">[</text>
<text font-size="39.4" transform="translate(427.78 102.68) rotate(-90) scale(0.4964 1)" stroke-width="0.42">]</text>
<text font-size="18.18" transform="translate(410.6 130.78) rotate(-90) scale(1.4979 1)" stroke-width="0.2">1</text>
<line x1="416.2" y1="148.6" x2="416.2" y2="105.2" stroke="#000" stroke-width="1.4"/>
<text font-size="19.5" transform="translate(434.6 147.4) rotate(-90) scale(1.4225 1)" font-style="italic" stroke-width="0.22">μm</text>
<text font-size="12.08" transform="translate(430.6 113.48) rotate(-90) scale(1.3168 1)" stroke-width="0.11">2</text>
<text font-size="34" transform="translate(824.1 470.32) rotate(-90) scale(0.9869 1)" stroke-width="0.42">Numerical </text>
<text font-size="34" transform="translate(824.1 317.13) rotate(-90) scale(1.0394 1)" stroke-width="0.42">constants</text>
<text font-size="38.92" transform="translate(826.25 174.39) rotate(-90) scale(0.5775 1)" stroke-width="0.42">[</text>
<text font-size="26.67" transform="translate(823.07 167.37) rotate(-90) scale(1.0673 1)" stroke-width="0.35">-</text>
<text font-size="38.92" transform="translate(826.25 158.28) rotate(-90) scale(0.571 1)" stroke-width="0.42">]</text>
<text font-size="34" transform="translate(1208.7 458.93) rotate(-90) scale(0.9948 1)" stroke-width="0.42">Reaction </text>
<text font-size="34" transform="translate(1208.7 328.03) rotate(-90) scale(1.0402 1)" stroke-width="0.42">constants</text>
<text font-size="39.04" transform="translate(1211.23 184.69) rotate(-90) scale(0.5757 1)" stroke-width="0.42">[</text>
<text font-size="26.67" transform="translate(1207.47 177.65) rotate(-90) scale(1.0529 1)" stroke-width="0.35">-</text>
<text font-size="39.04" transform="translate(1211.23 168.68) rotate(-90) scale(0.5693 1)" stroke-width="0.42">]</text>
</g>
<g id="captions">
<text font-size="42.6" transform="translate(7.07 737.1) scale(1.0649 1)" stroke-width="0.42">(a) </text>
<text font-size="42.6" transform="translate(70.49 737.1) scale(1.0452 1)" stroke-width="0.42">Simulation </text>
<text font-size="42.6" transform="translate(280.38 737.1) scale(1.0743 1)" stroke-width="0.42">input </text>
<text font-size="42.6" transform="translate(391.72 737.1) scale(1.0665 1)" stroke-width="0.42">parameter </text>
<text font-size="42.6" transform="translate(589.63 737.1) scale(1.0463 1)" stroke-width="0.42">prediction </text>
<text font-size="42.6" transform="translate(786.8 737.1) scale(1.0157 1)" stroke-width="0.42">based </text>
<text font-size="42.6" transform="translate(898.63 737.1) scale(1.043 1)" stroke-width="0.42">on </text>
<text font-size="42.6" transform="translate(956.6 737.1) scale(1.0536 1)" stroke-width="0.42">experimental </text>
<text font-size="42.6" transform="translate(1203.67 737.1) scale(1.0712 1)" stroke-width="0.42">stress-strain </text>
<text font-size="42.6" transform="translate(1434.84 737.1) scale(1.0361 1)" stroke-width="0.42">curve.</text>
<text font-size="42.6" transform="translate(71.49 1595) scale(1.0542 1)" stroke-width="0.42">(b) </text>
<text font-size="42.6" transform="translate(139.26 1595) scale(1.0603 1)" stroke-width="0.42">Experimental </text>
<text font-size="42.6" transform="translate(396.62 1595) scale(1.0582 1)" stroke-width="0.42">and </text>
<text font-size="42.6" transform="translate(476.33 1595) scale(1.0393 1)" stroke-width="0.42">simulative</text>
<text font-size="42.6" transform="translate(194.48 1651) scale(1.0702 1)" stroke-width="0.42">stress-strain </text>
<text font-size="42.6" transform="translate(426.04 1651) scale(1.0381 1)" stroke-width="0.42">curve.</text>
<text font-size="42.6" transform="translate(853.66 1595) scale(1.0168 1)" stroke-width="0.42">(c) </text>
<text font-size="42.6" transform="translate(915.58 1595) scale(1.0376 1)" stroke-width="0.42">Dislocation </text>
<text font-size="42.6" transform="translate(1132.64 1595) scale(1.0476 1)" stroke-width="0.42">density </text>
<text font-size="42.6" transform="translate(1275.38 1595) scale(1.0835 1)" stroke-width="0.42">distribution</text>
<text font-size="42.6" transform="translate(1080.84 1651) scale(1.0341 1)" stroke-width="0.42">evolution.</text>
</g>
<defs><clipPath id="cb"><rect x="107.4" y="827.4" width="612.4" height="609"/></clipPath>
<clipPath id="cc"><rect x="914.2" y="830" width="610.1" height="606.4"/></clipPath></defs>
<g id="panel-b">
<g clip-path="url(#cb)">
<path d="M204.5 1087L206 1083L210 1072.5L221.3 1060.2L229.5 1054L237.8 1044.7L252.3 1040.6L260.5 1031.3L268.8 1019.9L278 1012.7L293.5 1007.5L309 1001.4L324.5 995.2L330 995.5L349 988.5L368.7 981.3L388 975.2L407.4 969.7L426.8 966.5L446.1 967.7L465 970.3L484.8 973.5L510.6 977.4L529 985.6L545 990L560 991.6L580.6 991L606 987.5L632 982.6L658 977.5L684 972L704 968.5L720 966.4L720 1049L690 1049L650 1050L600 1049.2L555 1050L530 1047.7L491.3 1049L472 1047.7L459 1051L440 1054.5L420.3 1058.7L400 1063.3L381.6 1067.7L362 1074L342.9 1080L324.5 1084L303.9 1090.1L283.2 1099.4L278 1101.5L262.6 1104.6L250.2 1106.6L249.2 1111.8L244 1116L239.9 1127.3L230.6 1124.2L226.5 1132.4L214 1124.2L204.5 1117Z" fill="#c7b3cc" stroke-linejoin="round"/>
<path d="M109.3 1435.8L189.3 1099.4" fill="none" stroke="#21918c" stroke-width="5.2" stroke-dasharray="20.5 10.8"/>
<path d="M189.3 1099.4L195.3 1096.4L201.3 1093.5L207.3 1090.5L213.3 1087.6L219.3 1084.7L225.3 1081.9L231.3 1078.9L237.3 1076L243.3 1072.9L249.3 1069.9L255.3 1066.8L261.3 1063.9L267.3 1061.1L273.3 1058.4L279.3 1055.7L285.3 1053.1L291.3 1050.5L297.3 1047.9L303.3 1045.4L309.3 1043L315.3 1040.6L321.3 1038.3L327.3 1035.9L333.3 1033.4L339.3 1031L345.3 1029L351.3 1027.2L357.3 1025.4L363.3 1023.6L369.3 1021.8L375.3 1019.9L381.3 1018.1L387.3 1016.3L393.3 1014.5L399.3 1012.8L405.3 1011.2L411.3 1009.6L417.3 1007.9L423.3 1006.3L429.3 1004.7L435.3 1003.1L441.3 1001.6L447.3 1000L453.3 998.4L459.3 996.7L465.3 995L471.3 993.2L477.3 991.5L483.3 989.7L489.3 987.9L495.3 986.1L501.3 984.4L507.3 982.6L513.3 980.9L519.3 979.1L525.3 977.5L531.3 975.9L537.3 974.3L543.3 972.8L549.3 971.3L555.3 969.9L561.3 968.5L567.3 967.1L573.3 965.7L579.3 964.4L585.3 963.1L591.3 961.8L597.3 960.5L603.3 959.1L609.3 957.7L615.3 956.3L621.3 954.9L627.3 953.4L633.3 951.8L639.3 950.3L645.3 948.7L651.3 947.2L657.3 945.7L663.3 944.2L669.3 942.8L675.3 941.4L681.3 940.1L687.3 938.9L693.3 937.7L699.3 936.7L705.3 935.7L711.3 934.8L717.3 933.9L720 933.6" fill="none" stroke="#21918c" stroke-width="5.2" stroke-linejoin="round"/>
<path d="M175.1 1437L180.2 1279.5L183.8 1200.9L186.6 1140.5L188 1116.3L189.2 1101.6L190.6 1105.5L192.9 1113.9L195.2 1121L197.1 1124.3L199 1120.5L201.3 1113.9L203.2 1108.5L205 1104.2L207.2 1100.6L209.8 1098.1L214.1 1096.4L219.5 1095.2L225.4 1093.7L227.5 1091.5L230.6 1089.6L235 1087.5L239.9 1085L242 1082L247.1 1078.2L250.2 1075L256 1070.8L260.5 1068.4L267 1064.4L274 1061L283.2 1055.8L293 1051.8L303.9 1047.6L308.9 1046L313.9 1044.3L318.9 1042.7L323.9 1041L328.9 1039.3L333.9 1037.6L338.9 1035.9L343.9 1034.2L348.9 1032.6L353.9 1031.1L358.9 1029.5L363.9 1028L368.9 1026.5L373.9 1024.9L378.9 1023.4L383.9 1021.9L388.9 1020.3L393.9 1018.9L398.9 1017.5L403.9 1016.1L408.9 1014.8L413.9 1013.6L418.9 1012.5L423.9 1011.7L428.9 1011L433.9 1010.5L438.9 1010.1L443.9 1009.8L448.9 1009.6L453.9 1009.5L458.9 1009.5L463.9 1009.5L468.9 1009.6L473.9 1009.8L478.9 1010.1L483.9 1010.4L488.9 1010.8L493.9 1011.2L498.9 1011.8L503.9 1012.6L508.9 1013.6L513.9 1014.8L518.9 1015.9L523.9 1017L528.9 1018L533.9 1018.8L538.9 1019.5L543.9 1020L548.9 1020.5L553.9 1020.9L558.9 1021.3L563.9 1021.4L568.9 1021.2L573.9 1020.8L578.9 1020.3L583.9 1019.9L588.9 1019.5L593.9 1019.1L598.9 1018.7L603.9 1018.2L608.9 1017.7L613.9 1017.2L618.9 1016.7L623.9 1016.2L628.9 1015.7L633.9 1015.2L638.9 1014.7L643.9 1014.1L648.9 1013.5L653.9 1013L658.9 1012.5L663.9 1012L668.9 1011.6L673.9 1011.2L678.9 1010.7L683.9 1010.3L688.9 1009.9L693.9 1009.4L698.9 1009L703.9 1008.7L708.9 1008.3L713.9 1008L718.9 1007.7L719.8 1007.6" fill="none" stroke="#440154" stroke-width="5.2" stroke-linejoin="round"/>
</g>
<rect x="107.4" y="827.4" width="612.4" height="609" fill="none" stroke="#000" stroke-width="1.8"/>
<line x1="99.2" y1="1436.4" x2="107.4" y2="1436.4" stroke="#000" stroke-width="1.8"/>
<text font-size="32.7" transform="translate(77.12 1448) scale(0.918 1)" stroke-width="0.42">0</text>
<line x1="99.2" y1="1349.4" x2="107.4" y2="1349.4" stroke="#000" stroke-width="1.8"/>
<text font-size="32.7" transform="translate(62.11 1361) scale(0.918 1)" stroke-width="0.42">50</text>
<line x1="99.2" y1="1262.4" x2="107.4" y2="1262.4" stroke="#000" stroke-width="1.8"/>
<text font-size="32.7" transform="translate(47.1 1274) scale(0.918 1)" stroke-width="0.42">100</text>
<line x1="99.2" y1="1175.4" x2="107.4" y2="1175.4" stroke="#000" stroke-width="1.8"/>
<text font-size="32.7" transform="translate(47.1 1187) scale(0.918 1)" stroke-width="0.42">150</text>
<line x1="99.2" y1="1088.4" x2="107.4" y2="1088.4" stroke="#000" stroke-width="1.8"/>
<text font-size="32.7" transform="translate(47.1 1100) scale(0.918 1)" stroke-width="0.42">200</text>
<line x1="99.2" y1="1001.4" x2="107.4" y2="1001.4" stroke="#000" stroke-width="1.8"/>
<text font-size="32.7" transform="translate(47.1 1013) scale(0.918 1)" stroke-width="0.42">250</text>
<line x1="99.2" y1="914.4" x2="107.4" y2="914.4" stroke="#000" stroke-width="1.8"/>
<text font-size="32.7" transform="translate(47.1 926) scale(0.918 1)" stroke-width="0.42">300</text>
<line x1="99.2" y1="827.4" x2="107.4" y2="827.4" stroke="#000" stroke-width="1.8"/>
<text font-size="32.7" transform="translate(47.1 839) scale(0.918 1)" stroke-width="0.42">350</text>
<line x1="175.1" y1="1436.4" x2="175.1" y2="1444.6" stroke="#000" stroke-width="1.8"/>
<text font-size="32.7" transform="translate(167.6 1473.1) scale(0.918 1)" stroke-width="0.42">0</text>
<line x1="311.25" y1="1436.4" x2="311.25" y2="1444.6" stroke="#000" stroke-width="1.8"/>
<text font-size="32.7" transform="translate(303.33 1473.1) scale(0.918 1)" stroke-width="0.42">1</text>
<line x1="447.4" y1="1436.4" x2="447.4" y2="1444.6" stroke="#000" stroke-width="1.8"/>
<text font-size="32.7" transform="translate(440.08 1473.1) scale(0.918 1)" stroke-width="0.42">2</text>
<line x1="583.55" y1="1436.4" x2="583.55" y2="1444.6" stroke="#000" stroke-width="1.8"/>
<text font-size="32.7" transform="translate(575.93 1473.1) scale(0.918 1)" stroke-width="0.42">3</text>
<line x1="719.7" y1="1436.4" x2="719.7" y2="1444.6" stroke="#000" stroke-width="1.8"/>
<text font-size="32.7" transform="translate(712.12 1473.1) scale(0.918 1)" stroke-width="0.42">4</text>
<rect x="125.2" y="845.3" width="300.3" height="108.2" fill="#fff" stroke="#232323" stroke-width="1.9" rx="4.6"/>
<line x1="136.1" y1="871.5" x2="211.8" y2="871.5" stroke="#21918c" stroke-width="5.2"/>
<line x1="136.1" y1="920.8" x2="211.8" y2="920.8" stroke="#440154" stroke-width="5.2"/>
<text font-size="37" transform="translate(237.79 884.4) scale(0.9953 1)" stroke-width="0.42">Experiment</text>
<text font-size="37" transform="translate(236.43 933.4) scale(0.9888 1)" stroke-width="0.42">Simulation</text>
<text font-size="34.58" transform="translate(376.28 1514.55) scale(1.048 1)" font-style="italic" stroke-width="0.42">ε</text>
<text font-size="41.57" transform="translate(405.38 1516.89) scale(0.5839 1)" stroke-width="0.42">[</text>
<text font-size="41.33" transform="translate(413.76 1515.68) scale(0.7876 1)" stroke-width="0.42">%</text>
<text font-size="41.57" transform="translate(440.99 1516.89) scale(0.556 1)" stroke-width="0.42">]</text>
<text font-size="31.09" transform="translate(30.99 1192.37) rotate(-90) scale(1.3581 1)" font-style="italic" stroke-width="0.42">σ</text>
<text font-size="42.29" transform="translate(32.59 1158.29) rotate(-90) scale(0.5633 1)" stroke-width="0.42">[</text>
<text font-size="35" transform="translate(31 1148.95) rotate(-90) scale(0.982 1)" stroke-width="0.42">MPa</text>
<text font-size="42.29" transform="translate(32.59 1082.02) rotate(-90) scale(0.557 1)" stroke-width="0.42">]</text>
</g>
<g id="panel-c">
<g clip-path="url(#cc)">
<path d="M950 1349L954 1347.7L958 1347.9L962 1348.4L966 1349L970 1349.7L974 1350.5L978 1351.2L982 1351.7L986 1352.1L990 1352.3L994 1352.5L998 1352.8L1002 1353L1006 1353.2L1010 1353.3L1014 1353.5L1018 1353.6L1022 1353.7L1026 1353.7L1030 1353.7L1034 1353.6L1038 1353.4L1042 1353.2L1046 1352.9L1050 1352.6L1054 1352.3L1058 1352L1062 1351.6L1066 1351.3L1070 1350.9L1074 1350.6L1078 1350.2L1082 1349.8L1086 1349.4L1090 1349L1094 1348.6L1098 1348.2L1102 1347.8L1106 1347.4L1110 1347L1114 1346.6L1118 1346.2L1122 1345.9L1126 1345.5L1130 1345.2L1134 1344.8L1138 1344.5L1142 1344.1L1146 1343.8L1150 1343.4L1154 1343.1L1158 1342.8L1162 1342.5L1166 1342.2L1170 1341.9L1174 1341.6L1178 1341.3L1182 1341L1186 1340.7L1190 1340.4L1194 1340.1L1198 1339.8L1202 1339.5L1206 1339.2L1210 1339L1214 1338.7L1218 1338.5L1222 1338.4L1226 1338.3L1230 1338.2L1234 1338.2L1238 1338.2L1242 1338.3L1246 1338.4L1250 1338.6L1254 1338.7L1258 1338.9L1262 1339.1L1266 1339.3L1270 1339.5L1274 1339.7L1278 1339.9L1282 1340.1L1286 1340.3L1290 1340.6L1294 1340.8L1298 1341.1L1302 1341.3L1306 1341.6L1310 1341.9L1314 1342.3L1318 1342.6L1322 1342.9L1326 1343.2L1330 1343.6L1334 1343.9L1338 1344.3L1342 1344.6L1346 1344.9L1350 1345.3L1354 1345.6L1358 1345.9L1362 1346.2L1366 1346.4L1370 1346.7L1374 1346.9L1378 1347.2L1382 1347.4L1386 1347.6L1390 1347.8L1394 1348L1398 1348.2L1402 1348.4L1406 1348.6L1410 1348.8L1414 1349L1418 1349.2L1422 1349.4L1426 1349.6L1430 1349.8L1434 1350L1438 1350.2L1442 1350.4L1446 1350.6L1450 1350.7L1454 1350.9L1458 1351.1L1462 1351.3L1466 1351.5L1470 1351.7L1474 1351.9L1478 1352L1482 1352.2L1486 1352.4L1490 1352.6L1494 1352.8L1498 1352.9L1502 1353.1L1506 1353.3L1510 1353.5L1514 1353.6L1518 1353.8L1522 1354L1525 1354.1L1525 1414L1522 1414L1518 1414L1514 1414L1510 1414L1506 1414L1502 1414L1498 1414L1494 1414L1490 1413.9L1486 1413.9L1482 1413.9L1478 1413.9L1474 1413.9L1470 1413.9L1466 1413.9L1462 1413.8L1458 1413.8L1454 1413.8L1450 1413.8L1446 1413.8L1442 1413.8L1438 1413.7L1434 1413.7L1430 1413.7L1426 1413.7L1422 1413.6L1418 1413.6L1414 1413.6L1410 1413.6L1406 1413.5L1402 1413.5L1398 1413.5L1394 1413.5L1390 1413.4L1386 1413.4L1382 1413.3L1378 1413.3L1374 1413.3L1370 1413.2L1366 1413.2L1362 1413.1L1358 1413L1354 1413L1350 1412.9L1346 1412.9L1342 1412.8L1338 1412.7L1334 1412.7L1330 1412.6L1326 1412.5L1322 1412.4L1318 1412.4L1314 1412.3L1310 1412.2L1306 1412.1L1302 1412L1298 1412L1294 1411.9L1290 1411.8L1286 1411.7L1282 1411.6L1278 1411.5L1274 1411.4L1270 1411.3L1266 1411.2L1262 1411.1L1258 1411L1254 1410.8L1250 1410.7L1246 1410.5L1242 1410.4L1238 1410.2L1234 1410L1230 1409.8L1226 1409.5L1222 1409.2L1218 1408.8L1214 1408.3L1210 1407.8L1206 1407.3L1202 1406.8L1198 1406.3L1194 1405.8L1190 1405.3L1186 1404.8L1182 1404.3L1178 1403.8L1174 1403.3L1170 1402.8L1166 1402.3L1162 1401.8L1158 1401.3L1154 1400.8L1150 1400.3L1146 1399.9L1142 1399.4L1138 1398.9L1134 1398.5L1130 1398L1126 1397.5L1122 1397.1L1118 1396.6L1114 1396.1L1110 1395.7L1106 1395.2L1102 1394.7L1098 1394.3L1094 1393.8L1090 1393.3L1086 1392.8L1082 1392.4L1078 1391.9L1074 1391.4L1070 1390.9L1066 1390.5L1062 1390L1058 1389.4L1054 1388.9L1050 1388.3L1046 1387.8L1042 1387.2L1038 1386.5L1034 1385.9L1030 1385.2L1026 1384.6L1022 1383.8L1018 1383.1L1014 1382.3L1010 1381.5L1006 1380.6L1002 1379.7L998 1378.7L994 1377.7L990 1376.5L986 1375.3L982 1374L978 1372.6L974 1371L970 1369.4L966 1367.6L962 1365.5L958 1362.8L954 1359.2L950 1352Z" fill="#440154" fill-opacity="0.3"/>
<path d="M930 1434L936 1428.8L942 1424.7L948 1424L954 1424L960 1424L966 1424L972 1424L978 1424L984 1424L990 1424L996 1424L1002 1424L1008 1424L1014 1424L1020 1424L1026 1424L1032 1424L1038 1424L1044 1423.9L1050 1423.9L1056 1423.8L1062 1423.8L1068 1423.7L1074 1423.6L1080 1423.5L1086 1423.4L1092 1423.3L1098 1423.2L1104 1423.1L1110 1423L1116 1423L1122 1422.9L1128 1422.8L1134 1422.6L1140 1422.5L1146 1422.4L1152 1422.2L1158 1422.1L1164 1422L1170 1421.8L1176 1421.7L1182 1421.6L1188 1421.5L1194 1421.3L1200 1421.2L1206 1421.2L1212 1421.1L1218 1421L1224 1421L1230 1421L1236 1421L1242 1421L1248 1421L1254 1421L1260 1421L1266 1421L1272 1421L1278 1421L1284 1421L1290 1421L1296 1421L1302 1421L1308 1421L1314 1421L1320 1421L1326 1421L1332 1421L1338 1421L1344 1421.1L1350 1421.1L1356 1421.1L1362 1421.1L1368 1421.1L1374 1421.1L1380 1421.1L1386 1421.1L1392 1421.2L1398 1421.2L1404 1421.2L1410 1421.2L1416 1421.3L1422 1421.3L1428 1421.3L1434 1421.3L1440 1421.4L1446 1421.4L1452 1421.4L1458 1421.5L1464 1421.5L1470 1421.5L1476 1421.6L1482 1421.6L1488 1421.7L1494 1421.7L1500 1421.8L1506 1421.8L1512 1421.9L1518 1421.9L1524 1422L1525 1422L1525 1428.7L1524 1428.7L1518 1428.7L1512 1428.7L1506 1428.7L1500 1428.7L1494 1428.7L1488 1428.7L1482 1428.7L1476 1428.7L1470 1428.7L1464 1428.7L1458 1428.8L1452 1428.8L1446 1428.8L1440 1428.8L1434 1428.8L1428 1428.8L1422 1428.8L1416 1428.9L1410 1428.9L1404 1428.9L1398 1428.9L1392 1428.9L1386 1428.9L1380 1429L1374 1429L1368 1429L1362 1429L1356 1429.1L1350 1429.1L1344 1429.2L1338 1429.3L1332 1429.4L1326 1429.5L1320 1429.6L1314 1429.7L1308 1429.9L1302 1430L1296 1430.1L1290 1430.3L1284 1430.4L1278 1430.6L1272 1430.9L1266 1431.3L1260 1431.7L1254 1432L1248 1432.4L1242 1432.6L1236 1432.8L1230 1432.9L1224 1432.9L1218 1432.9L1212 1432.8L1206 1432.7L1200 1432.7L1194 1432.6L1188 1432.5L1182 1432.3L1176 1432.2L1170 1432.1L1164 1432L1158 1431.9L1152 1431.7L1146 1431.6L1140 1431.4L1134 1431.2L1128 1430.9L1122 1430.7L1116 1430.5L1110 1430.3L1104 1430.1L1098 1429.9L1092 1429.7L1086 1429.6L1080 1429.4L1074 1429.3L1068 1429.1L1062 1429L1056 1428.8L1050 1428.7L1044 1428.6L1038 1428.6L1032 1428.5L1026 1428.5L1020 1428.5L1014 1428.5L1008 1428.5L1002 1428.5L996 1428.5L990 1428.5L984 1428.5L978 1428.5L972 1428.5L966 1428.5L960 1428.5L954 1428.5L948 1428.5L942 1429L936 1432.1L930 1436Z" fill="#3b528b" fill-opacity="0.3"/>
<path d="M930 1434L936 1425.7L942 1419.1L948 1418L954 1418L960 1418L966 1418.1L972 1418.1L978 1418.2L984 1418.2L990 1418.3L996 1418.3L1002 1418.4L1008 1418.4L1014 1418.5L1020 1418.5L1026 1418.5L1032 1418.4L1038 1418.1L1044 1417.6L1050 1417L1056 1416.4L1062 1415.8L1068 1415.2L1074 1414.5L1080 1413.9L1086 1413.2L1092 1412.7L1098 1412.2L1104 1411.7L1110 1411.2L1116 1410.7L1122 1410.3L1128 1409.8L1134 1409.4L1140 1409.1L1146 1408.8L1152 1408.5L1158 1408.3L1164 1408.1L1170 1408L1176 1407.8L1182 1407.7L1188 1407.5L1194 1407.5L1200 1407.4L1206 1407.4L1212 1407.3L1218 1407.3L1224 1407.3L1230 1407.3L1236 1407.3L1242 1407.4L1248 1407.5L1254 1407.6L1260 1407.7L1266 1407.8L1272 1407.9L1278 1408.1L1284 1408.2L1290 1408.3L1296 1408.5L1302 1408.6L1308 1408.7L1314 1408.9L1320 1409L1326 1409.1L1332 1409.2L1338 1409.4L1344 1409.5L1350 1409.6L1356 1409.7L1362 1409.8L1368 1409.9L1374 1410L1380 1410.1L1386 1410.3L1392 1410.4L1398 1410.5L1404 1410.6L1410 1410.7L1416 1410.8L1422 1410.9L1428 1411L1434 1411.1L1440 1411.2L1446 1411.3L1452 1411.4L1458 1411.5L1464 1411.6L1470 1411.7L1476 1411.8L1482 1411.9L1488 1411.9L1494 1412L1500 1412.1L1506 1412.2L1512 1412.3L1518 1412.4L1524 1412.5L1525 1412.5L1525 1428.7L1524 1428.7L1518 1428.7L1512 1428.7L1506 1428.7L1500 1428.7L1494 1428.7L1488 1428.7L1482 1428.7L1476 1428.7L1470 1428.7L1464 1428.7L1458 1428.8L1452 1428.8L1446 1428.8L1440 1428.8L1434 1428.8L1428 1428.8L1422 1428.8L1416 1428.9L1410 1428.9L1404 1428.9L1398 1428.9L1392 1428.9L1386 1428.9L1380 1429L1374 1429L1368 1429L1362 1429L1356 1429.1L1350 1429.1L1344 1429.2L1338 1429.3L1332 1429.4L1326 1429.5L1320 1429.6L1314 1429.7L1308 1429.9L1302 1430L1296 1430.1L1290 1430.3L1284 1430.4L1278 1430.6L1272 1430.9L1266 1431.3L1260 1431.7L1254 1432L1248 1432.4L1242 1432.6L1236 1432.8L1230 1432.9L1224 1432.9L1218 1432.9L1212 1432.8L1206 1432.7L1200 1432.7L1194 1432.6L1188 1432.5L1182 1432.3L1176 1432.2L1170 1432.1L1164 1432L1158 1431.9L1152 1431.7L1146 1431.6L1140 1431.5L1134 1431.3L1128 1431.2L1122 1431L1116 1430.8L1110 1430.6L1104 1430.3L1098 1430L1092 1429.7L1086 1429.2L1080 1428.3L1074 1427.3L1068 1426.5L1062 1425.8L1056 1425.3L1050 1424.8L1044 1424.3L1038 1423.9L1032 1423.6L1026 1423.5L1020 1423.3L1014 1423.2L1008 1423.1L1002 1423L996 1422.9L990 1422.8L984 1422.7L978 1422.7L972 1422.6L966 1422.6L960 1422.5L954 1422.5L948 1422.5L942 1423.4L936 1429L930 1436Z" fill="#21918c" fill-opacity="0.3"/>
<path d="M930 1384L934 1382.3L938 1380.8L942 1379.5L946 1378.1L950 1376.8L954 1375.7L958 1374.8L962 1374.4L966 1374.3L970 1374.4L974 1374.6L978 1374.9L982 1375.2L986 1375.5L990 1375.8L994 1376.3L998 1376.8L1002 1377.4L1006 1378L1010 1378.7L1014 1379.5L1018 1380.2L1022 1380.9L1026 1381.7L1030 1382.4L1034 1383.3L1038 1384.2L1042 1385.1L1046 1386L1050 1386.7L1054 1387.3L1058 1387.8L1062 1388.4L1066 1388.9L1070 1389.4L1074 1389.9L1078 1390.4L1082 1390.8L1086 1391.2L1090 1391.6L1094 1392L1098 1392.3L1102 1392.7L1106 1393L1110 1393.3L1114 1393.7L1118 1394L1122 1394.3L1126 1394.6L1130 1394.9L1134 1395.2L1138 1395.5L1142 1395.8L1146 1396.1L1150 1396.3L1154 1396.6L1158 1396.9L1162 1397.1L1166 1397.4L1170 1397.6L1174 1397.9L1178 1398.1L1182 1398.3L1186 1398.5L1190 1398.8L1194 1399L1198 1399.2L1202 1399.4L1206 1399.5L1210 1399.7L1214 1399.9L1218 1400.1L1222 1400.2L1226 1400.4L1230 1400.5L1234 1400.6L1238 1400.8L1242 1400.9L1246 1401L1250 1401.2L1254 1401.3L1258 1401.5L1262 1401.6L1266 1401.7L1270 1401.9L1274 1402L1278 1402.1L1282 1402.3L1286 1402.4L1290 1402.5L1294 1402.6L1298 1402.8L1302 1402.9L1306 1403L1310 1403.1L1314 1403.3L1318 1403.4L1322 1403.5L1326 1403.6L1330 1403.7L1334 1403.9L1338 1404L1342 1404.1L1346 1404.2L1350 1404.3L1354 1404.4L1358 1404.5L1362 1404.6L1366 1404.7L1370 1404.8L1374 1404.9L1378 1405L1382 1405.1L1386 1405.2L1390 1405.3L1394 1405.4L1398 1405.5L1402 1405.6L1406 1405.7L1410 1405.8L1414 1405.8L1418 1405.9L1422 1406L1426 1406.1L1430 1406.1L1434 1406.2L1438 1406.3L1442 1406.3L1446 1406.4L1450 1406.4L1454 1406.5L1458 1406.6L1462 1406.6L1466 1406.7L1470 1406.7L1474 1406.7L1478 1406.8L1482 1406.8L1486 1406.8L1490 1406.9L1494 1406.9L1498 1406.9L1502 1406.9L1506 1407L1510 1407L1514 1407L1518 1407L1522 1407L1525 1407L1525 1411L1522 1410.9L1518 1410.8L1514 1410.6L1510 1410.5L1506 1410.4L1502 1410.3L1498 1410.2L1494 1410.1L1490 1410L1486 1409.8L1482 1409.7L1478 1409.6L1474 1409.5L1470 1409.4L1466 1409.3L1462 1409.3L1458 1409.2L1454 1409.1L1450 1409L1446 1408.9L1442 1408.8L1438 1408.8L1434 1408.7L1430 1408.6L1426 1408.5L1422 1408.5L1418 1408.4L1414 1408.3L1410 1408.3L1406 1408.2L1402 1408.2L1398 1408.1L1394 1408.1L1390 1408L1386 1408L1382 1407.9L1378 1407.9L1374 1407.8L1370 1407.8L1366 1407.8L1362 1407.7L1358 1407.7L1354 1407.7L1350 1407.7L1346 1407.6L1342 1407.6L1338 1407.6L1334 1407.6L1330 1407.6L1326 1407.5L1322 1407.5L1318 1407.5L1314 1407.5L1310 1407.5L1306 1407.5L1302 1407.5L1298 1407.5L1294 1407.5L1290 1407.5L1286 1407.5L1282 1407.5L1278 1407.6L1274 1407.6L1270 1407.6L1266 1407.6L1262 1407.7L1258 1407.7L1254 1407.8L1250 1407.8L1246 1407.8L1242 1407.9L1238 1407.9L1234 1408L1230 1408L1226 1408.1L1222 1408.1L1218 1408.2L1214 1408.3L1210 1408.4L1206 1408.6L1202 1408.7L1198 1408.8L1194 1409L1190 1409.1L1186 1409.2L1182 1409.3L1178 1409.5L1174 1409.6L1170 1409.6L1166 1409.7L1162 1409.8L1158 1409.8L1154 1409.8L1150 1409.8L1146 1409.8L1142 1409.8L1138 1409.8L1134 1409.8L1130 1409.8L1126 1409.7L1122 1409.7L1118 1409.7L1114 1409.7L1110 1409.6L1106 1409.6L1102 1409.6L1098 1409.6L1094 1409.5L1090 1409.5L1086 1409.4L1082 1409.2L1078 1408.9L1074 1408.7L1070 1408.3L1066 1408L1062 1407.6L1058 1407.2L1054 1406.8L1050 1406.4L1046 1406L1042 1405.6L1038 1405.2L1034 1404.7L1030 1404.2L1026 1403.7L1022 1403.2L1018 1402.7L1014 1402.1L1010 1401.5L1006 1400.9L1002 1400.3L998 1399.6L994 1398.8L990 1398L986 1397.2L982 1396.4L978 1395.5L974 1394.6L970 1393.7L966 1392.9L962 1392L958 1390.9L954 1389.8L950 1388.7L946 1387.8L942 1387L938 1386.5L934 1386.2L930 1386Z" fill="#5ec962" fill-opacity="0.3"/>
<path d="M930 1336L934 1331.3L938 1326.9L942 1322.9L946 1319.3L950 1316L954 1312.9L958 1309.9L962 1306.9L966 1303.9L970 1300.9L974 1298L978 1295.1L982 1292.3L986 1289.5L990 1286.8L994 1284.1L998 1281.5L1002 1278.9L1006 1276.4L1010 1273.9L1014 1271.6L1018 1269.3L1022 1267.2L1026 1265.1L1030 1263L1034 1260.9L1038 1258.7L1042 1256.6L1046 1254.5L1050 1252.3L1054 1250.2L1058 1248L1062 1245.9L1066 1243.7L1070 1241.5L1074 1239.3L1078 1237.2L1082 1235.1L1086 1233L1090 1230.9L1094 1228.9L1098 1227L1102 1225L1106 1223.1L1110 1221.3L1114 1219.5L1118 1217.8L1122 1216.1L1126 1214.5L1130 1212.9L1134 1211.3L1138 1209.8L1142 1208.2L1146 1206.7L1150 1205.2L1154 1203.7L1158 1202.3L1162 1200.9L1166 1199.7L1170 1198.7L1174 1197.7L1178 1196.6L1182 1195.3L1186 1193.7L1190 1192.1L1194 1190.9L1198 1190L1202 1189.1L1206 1188.4L1210 1187.6L1214 1187L1218 1186.4L1222 1185.8L1226 1185.2L1230 1184.6L1234 1184.1L1238 1183.6L1242 1183.1L1246 1182.7L1250 1182.5L1254 1182.3L1258 1182.1L1262 1181.9L1266 1181.8L1270 1181.6L1274 1181.6L1278 1181.5L1282 1181.5L1286 1181.5L1290 1181.5L1294 1181.6L1298 1181.6L1302 1181.6L1306 1181.7L1310 1181.7L1314 1181.7L1318 1181.7L1322 1181.5L1326 1181.4L1330 1181.1L1334 1180.9L1338 1180.6L1342 1180.3L1346 1180.1L1350 1179.8L1354 1179.6L1358 1179.4L1362 1179.3L1366 1179.1L1370 1179L1374 1178.9L1378 1178.7L1382 1178.6L1386 1178.5L1390 1178.3L1394 1178.2L1398 1178L1402 1177.8L1406 1177.5L1410 1177.2L1414 1176.9L1418 1176.6L1422 1176.2L1426 1175.9L1430 1175.5L1434 1175.1L1438 1174.7L1442 1174.3L1446 1173.9L1450 1173.5L1454 1173L1458 1172.5L1462 1172L1466 1171.6L1470 1171.1L1474 1170.6L1478 1170.1L1482 1169.6L1486 1169.1L1490 1168.7L1494 1168.2L1498 1167.7L1502 1167.3L1506 1166.8L1510 1166.3L1514 1165.9L1518 1165.4L1522 1164.9L1525 1164.6L1525 1175.1L1522 1175.6L1518 1176.2L1514 1176.8L1510 1177.4L1506 1178L1502 1178.6L1498 1179.2L1494 1179.8L1490 1180.4L1486 1180.9L1482 1181.5L1478 1182L1474 1182.6L1470 1183.1L1466 1183.6L1462 1184.1L1458 1184.6L1454 1185.1L1450 1185.7L1446 1186.2L1442 1186.7L1438 1187.3L1434 1187.9L1430 1188.5L1426 1189.1L1422 1189.7L1418 1190.3L1414 1190.9L1410 1191.5L1406 1192.1L1402 1192.7L1398 1193.3L1394 1193.9L1390 1194.5L1386 1195.1L1382 1195.7L1378 1196.3L1374 1196.8L1370 1197.4L1366 1198L1362 1198.7L1358 1199.3L1354 1200L1350 1200.8L1346 1201.5L1342 1202.4L1338 1203.2L1334 1204.1L1330 1204.9L1326 1205.7L1322 1206.5L1318 1207.3L1314 1208L1310 1208.6L1306 1209.2L1302 1209.8L1298 1210.4L1294 1210.9L1290 1211.5L1286 1212L1282 1212.6L1278 1213.2L1274 1213.8L1270 1214.4L1266 1215.1L1262 1215.7L1258 1216.4L1254 1217.1L1250 1217.9L1246 1218.7L1242 1219.7L1238 1220.6L1234 1221.6L1230 1222.6L1226 1223.6L1222 1224.5L1218 1225.3L1214 1226.1L1210 1226.9L1206 1227.6L1202 1228.4L1198 1229.2L1194 1230.1L1190 1231L1186 1232.1L1182 1233.1L1178 1234.3L1174 1235.4L1170 1236.5L1166 1237.5L1162 1238.5L1158 1239.3L1154 1240.2L1150 1241L1146 1241.8L1142 1242.6L1138 1243.4L1134 1244.1L1130 1244.8L1126 1245.5L1122 1246.2L1118 1246.9L1114 1247.7L1110 1248.6L1106 1249.5L1102 1250.5L1098 1251.5L1094 1252.5L1090 1253.6L1086 1254.7L1082 1255.8L1078 1257L1074 1258.2L1070 1259.4L1066 1260.6L1062 1261.9L1058 1263.3L1054 1264.7L1050 1266.2L1046 1267.7L1042 1269.3L1038 1270.9L1034 1272.6L1030 1274.3L1026 1276.1L1022 1277.9L1018 1279.8L1014 1281.7L1010 1283.7L1006 1285.8L1002 1287.9L998 1290.2L994 1292.5L990 1294.9L986 1297.4L982 1300.1L978 1302.9L974 1305.8L970 1308.7L966 1311.6L962 1314.3L958 1316.8L954 1319.2L950 1321.8L946 1324.5L942 1327.5L938 1331L934 1334.8L930 1339Z" fill="#fde725" fill-opacity="0.3"/>
<path d="M913 1138.2L917 1138.2L921 1138.2L925 1138.2L929 1138.8L933 1145.9L937 1153.2L941 1159.3L945 1162.2L949 1161.7L953 1160.6L957 1158.2L961 1154.5L965 1151.2L969 1148.3L973 1145.5L977 1142.8L981 1140.1L985 1137.4L989 1134.8L993 1132.5L997 1130.4L1001 1128.5L1005 1126.8L1009 1125.2L1013 1123.6L1017 1122.1L1021 1120.5L1025 1118.9L1029 1117.3L1033 1115.7L1037 1114.1L1041 1112.5L1045 1110.8L1049 1109.2L1053 1107.6L1057 1106L1061 1104.3L1065 1102.5L1069 1100.7L1073 1098.7L1077 1096.6L1081 1094.5L1085 1092.4L1089 1090.3L1093 1088.2L1097 1086.3L1101 1084.3L1105 1082.4L1109 1080.5L1113 1078.8L1117 1077.1L1121 1075.4L1125 1073.8L1129 1072.2L1133 1070.6L1137 1069.1L1141 1067.6L1145 1066.1L1149 1064.7L1153 1063.4L1157 1062.1L1161 1060.9L1165 1059.6L1169 1058.4L1173 1057.2L1177 1056L1181 1054.9L1185 1053.9L1189 1052.9L1193 1051.9L1197 1051.1L1201 1050.3L1205 1049.5L1209 1048.8L1213 1048.1L1217 1047.5L1221 1047L1225 1046.6L1229 1046.4L1233 1046.1L1237 1045.9L1241 1045.8L1245 1045.6L1249 1045.5L1253 1045.5L1257 1045.5L1261 1045.7L1265 1045.9L1269 1046.2L1273 1046.5L1277 1046.9L1281 1047.3L1285 1047.7L1289 1048.1L1293 1048.5L1297 1048.8L1301 1049.2L1305 1049.5L1309 1049.9L1313 1050.3L1317 1050.7L1321 1051.1L1325 1051.6L1329 1052L1333 1052.4L1337 1052.8L1341 1053.2L1345 1053.6L1349 1054L1353 1054.4L1357 1054.8L1361 1055.3L1365 1055.7L1369 1056.2L1373 1056.7L1377 1057.1L1381 1057.5L1385 1057.9L1389 1058.2L1393 1058.4L1397 1058.6L1401 1058.7L1405 1058.7L1409 1058.6L1413 1058.5L1417 1058.4L1421 1058.2L1425 1058L1429 1057.8L1433 1057.5L1437 1057.3L1441 1057L1445 1056.8L1449 1056.5L1453 1056.3L1457 1056.1L1461 1055.9L1465 1055.8L1469 1055.6L1473 1055.4L1477 1055.2L1481 1055L1485 1054.8L1489 1054.6L1493 1054.5L1497 1054.3L1501 1054.1L1505 1053.9L1509 1053.7L1513 1053.5L1517 1053.4L1521 1053.2L1525 1053L1525 1139.2L1521 1139.8L1517 1140.3L1513 1140.8L1509 1141.3L1505 1141.8L1501 1142.3L1497 1142.7L1493 1143.1L1489 1143.5L1485 1143.9L1481 1144.2L1477 1144.5L1473 1144.8L1469 1145L1465 1145.2L1461 1145.5L1457 1145.7L1453 1145.9L1449 1146.1L1445 1146.2L1441 1146.4L1437 1146.6L1433 1146.7L1429 1146.9L1425 1147L1421 1147.2L1417 1147.3L1413 1147.4L1409 1147.5L1405 1147.6L1401 1147.7L1397 1147.8L1393 1147.9L1389 1148L1385 1148.2L1381 1148.3L1377 1148.5L1373 1148.7L1369 1148.9L1365 1149.1L1361 1149.5L1357 1149.9L1353 1150.3L1349 1150.8L1345 1151.3L1341 1151.9L1337 1152.5L1333 1153.1L1329 1153.7L1325 1154.3L1321 1155L1317 1155.6L1313 1156.3L1309 1156.9L1305 1157.5L1301 1158.2L1297 1158.9L1293 1159.6L1289 1160.4L1285 1161.2L1281 1161.9L1277 1162.7L1273 1163.5L1269 1164.2L1265 1165L1261 1165.7L1257 1166.3L1253 1166.9L1249 1167.5L1245 1168L1241 1168.6L1237 1169.1L1233 1169.6L1229 1170.1L1225 1170.6L1221 1171L1217 1171.5L1213 1171.9L1209 1172.4L1205 1172.8L1201 1173.2L1197 1173.6L1193 1174L1189 1174.3L1185 1174.7L1181 1175L1177 1175.4L1173 1175.7L1169 1176L1165 1176.3L1161 1176.6L1157 1176.8L1153 1177.1L1149 1177.4L1145 1177.7L1141 1178L1137 1178.3L1133 1178.7L1129 1179.1L1125 1179.5L1121 1180L1117 1180.4L1113 1180.9L1109 1181.4L1105 1182L1101 1182.5L1097 1183.1L1093 1183.7L1089 1184.3L1085 1185L1081 1185.7L1077 1186.5L1073 1187.3L1069 1188.2L1065 1189L1061 1189.9L1057 1190.7L1053 1191.6L1049 1192.4L1045 1193.2L1041 1194.1L1037 1195L1033 1196L1029 1196.9L1025 1197.8L1021 1198.6L1017 1199.4L1013 1200.1L1009 1200.7L1005 1201.2L1001 1201.6L997 1202L993 1202.5L989 1202.8L985 1203.1L981 1203.3L977 1203.5L973 1203.4L969 1202.9L965 1201.8L961 1200.4L957 1198.6L953 1195.7L949 1192.2L945 1188.8L941 1185.3L937 1180.8L933 1171.5L929 1160.4L925 1159.4L921 1159.4L917 1159.4L913 1159.4Z" fill="#000" fill-opacity="0.3"/>
<path d="M913 1341.4L921.3 1341.4L923 1336L924.5 1326.5L926.5 1310L928.7 1299.8L930.4 1301L931.9 1305.2L936.2 1320L942.6 1338.2L947.5 1346L953.2 1352L958 1355.6L963.9 1358.4L968.9 1360.3L973.9 1362L978.9 1363.4L983.9 1364.6L988.9 1365.4L993.9 1366.1L998.9 1366.7L1003.9 1367.2L1008.9 1367.8L1013.9 1368.4L1018.9 1368.9L1023.9 1369.4L1028.9 1369.9L1033.9 1370.4L1038.9 1370.9L1043.9 1371.4L1048.9 1371.6L1053.9 1371.7L1058.9 1371.8L1063.9 1371.9L1068.9 1372L1073.9 1372L1078.9 1372.1L1083.9 1372.1L1088.9 1372.2L1093.9 1372.2L1098.9 1372.3L1103.9 1372.3L1108.9 1372.4L1113.9 1372.4L1118.9 1372.5L1123.9 1372.5L1128.9 1372.6L1133.9 1372.6L1138.9 1372.7L1143.9 1372.8L1148.9 1372.8L1153.9 1372.9L1158.9 1372.9L1163.9 1373L1168.9 1373.1L1173.9 1373.2L1178.9 1373.3L1183.9 1373.4L1188.9 1373.5L1193.9 1373.6L1198.9 1373.7L1203.9 1373.8L1208.9 1373.9L1213.9 1374.1L1218.9 1374.2L1223.9 1374.4L1228.9 1374.5L1233.9 1374.7L1238.9 1374.9L1243.9 1375.1L1248.9 1375.2L1253.9 1375.4L1258.9 1375.6L1263.9 1375.8L1268.9 1376L1273.9 1376.2L1278.9 1376.4L1283.9 1376.6L1288.9 1376.7L1293.9 1376.9L1298.9 1377.1L1303.9 1377.4L1308.9 1377.6L1313.9 1377.8L1318.9 1378L1323.9 1378.2L1328.9 1378.4L1333.9 1378.6L1338.9 1378.9L1343.9 1379.1L1348.9 1379.3L1353.9 1379.5L1358.9 1379.8L1363.9 1380L1368.9 1380.2L1373.9 1380.5L1378.9 1380.7L1383.9 1381L1388.9 1381.2L1393.9 1381.4L1398.9 1381.7L1403.9 1382L1408.9 1382.2L1413.9 1382.5L1418.9 1382.7L1423.9 1383L1428.9 1383.2L1433.9 1383.5L1438.9 1383.7L1443.9 1384L1448.9 1384.3L1453.9 1384.5L1458.9 1384.8L1463.9 1385L1468.9 1385.3L1473.9 1385.6L1478.9 1385.8L1483.9 1386.1L1488.9 1386.4L1493.9 1386.6L1498.9 1386.9L1503.9 1387.2L1508.9 1387.4L1513.9 1387.7L1518.9 1388L1523.9 1388.2L1525 1388.3" fill="none" stroke="#440154" stroke-width="5.2" stroke-linejoin="round"/>
<path d="M913 1436L927.7 1436L931 1434L936.2 1429.5L940 1427L944.7 1425.7L1027.7 1425.7L1032.7 1425.6L1037.7 1425.6L1042.7 1425.5L1047.7 1425.4L1052.7 1425.4L1057.7 1425.3L1062.7 1425.2L1067.7 1425.2L1072.7 1425.1L1077.7 1425.1L1082.7 1425L1087.7 1424.9L1092.7 1424.9L1097.7 1424.8L1102.7 1424.7L1107.7 1424.7L1112.7 1424.6L1117.7 1424.5L1122.7 1424.5L1127.7 1424.4L1132.7 1424.3L1137.7 1424.2L1142.7 1424.1L1147.7 1424.1L1152.7 1424L1157.7 1423.9L1162.7 1423.8L1167.7 1423.7L1172.7 1423.6L1177.7 1423.6L1182.7 1423.5L1187.7 1423.4L1192.7 1423.4L1197.7 1423.3L1202.7 1423.2L1207.7 1423.2L1212.7 1423.2L1217.7 1423.1L1222.7 1423.1L1227.7 1423.1L1232.7 1423.1L1237.7 1423.1L1242.7 1423.1L1247.7 1423.1L1252.7 1423.1L1257.7 1423.1L1262.7 1423.2L1267.7 1423.2L1272.7 1423.2L1277.7 1423.2L1282.7 1423.3L1287.7 1423.3L1292.7 1423.3L1297.7 1423.3L1302.7 1423.4L1307.7 1423.4L1312.7 1423.4L1317.7 1423.5L1322.7 1423.5L1327.7 1423.5L1332.7 1423.6L1337.7 1423.6L1342.7 1423.6L1347.7 1423.7L1352.7 1423.7L1357.7 1423.7L1362.7 1423.8L1367.7 1423.8L1372.7 1423.8L1377.7 1423.8L1382.7 1423.9L1387.7 1423.9L1392.7 1423.9L1397.7 1423.9L1402.7 1424L1407.7 1424L1412.7 1424L1417.7 1424L1422.7 1424.1L1427.7 1424.1L1432.7 1424.1L1437.7 1424.1L1442.7 1424.2L1447.7 1424.2L1452.7 1424.2L1457.7 1424.2L1462.7 1424.3L1467.7 1424.3L1472.7 1424.3L1477.7 1424.4L1482.7 1424.4L1487.7 1424.4L1492.7 1424.4L1497.7 1424.5L1502.7 1424.5L1507.7 1424.5L1512.7 1424.5L1517.7 1424.6L1522.7 1424.6L1525 1424.6" fill="none" stroke="#3b528b" stroke-width="5.2" stroke-linejoin="round"/>
<path d="M913 1435.6L927.7 1435.6L931 1432L936.2 1424.7L940 1421.6L944.7 1420.5L963.9 1421.5L968.9 1421.5L973.9 1421.5L978.9 1421.4L983.9 1421.4L988.9 1421.4L993.9 1421.3L998.9 1421.3L1003.9 1421.2L1008.9 1421.2L1013.9 1421.1L1018.9 1421.1L1023.9 1421L1028.9 1421L1033.9 1420.9L1038.9 1420.9L1043.9 1420.8L1048.9 1420.7L1053.9 1420.6L1058.9 1420.5L1063.9 1420.4L1068.9 1420.3L1073.9 1420.2L1078.9 1420.1L1083.9 1420L1088.9 1419.9L1093.9 1419.8L1098.9 1419.7L1103.9 1419.6L1108.9 1419.5L1113.9 1419.4L1118.9 1419.3L1123.9 1419.2L1128.9 1419.1L1133.9 1418.9L1138.9 1418.8L1143.9 1418.7L1148.9 1418.6L1153.9 1418.5L1158.9 1418.3L1163.9 1418.2L1168.9 1418.1L1173.9 1418L1178.9 1417.9L1183.9 1417.7L1188.9 1417.6L1193.9 1417.6L1198.9 1417.5L1203.9 1417.4L1208.9 1417.3L1213.9 1417.3L1218.9 1417.2L1223.9 1417.2L1228.9 1417.2L1233.9 1417.2L1238.9 1417.2L1243.9 1417.2L1248.9 1417.2L1253.9 1417.2L1258.9 1417.3L1263.9 1417.3L1268.9 1417.3L1273.9 1417.3L1278.9 1417.4L1283.9 1417.4L1288.9 1417.4L1293.9 1417.4L1298.9 1417.5L1303.9 1417.5L1308.9 1417.5L1313.9 1417.5L1318.9 1417.6L1323.9 1417.6L1328.9 1417.6L1333.9 1417.7L1338.9 1417.7L1343.9 1417.8L1348.9 1417.8L1353.9 1417.9L1358.9 1417.9L1363.9 1417.9L1368.9 1418L1373.9 1418L1378.9 1418.1L1383.9 1418.1L1388.9 1418.2L1393.9 1418.2L1398.9 1418.3L1403.9 1418.3L1408.9 1418.4L1413.9 1418.4L1418.9 1418.4L1423.9 1418.5L1428.9 1418.5L1433.9 1418.6L1438.9 1418.6L1443.9 1418.7L1448.9 1418.7L1453.9 1418.7L1458.9 1418.8L1463.9 1418.8L1468.9 1418.9L1473.9 1418.9L1478.9 1418.9L1483.9 1419L1488.9 1419L1493.9 1419.1L1498.9 1419.1L1503.9 1419.1L1508.9 1419.2L1513.9 1419.2L1518.9 1419.3L1523.9 1419.3L1525 1419.3" fill="none" stroke="#21918c" stroke-width="5.2" stroke-linejoin="round"/>
<path d="M913 1372.2L921.3 1372.2L924 1375L926.5 1382L928.7 1386.1L932 1385L938.3 1383.5L963.9 1382.9L968.9 1383.2L973.9 1383.6L978.9 1383.9L983.9 1384.3L988.9 1384.7L993.9 1385.1L998.9 1385.6L1003.9 1386L1008.9 1386.5L1013.9 1386.9L1018.9 1387.4L1023.9 1387.9L1028.9 1388.3L1033.9 1388.8L1038.9 1389.2L1043.9 1389.7L1048.9 1390.1L1053.9 1390.6L1058.9 1391L1063.9 1391.4L1068.9 1391.9L1073.9 1392.3L1078.9 1392.8L1083.9 1393.2L1088.9 1393.6L1093.9 1394.1L1098.9 1394.5L1103.9 1394.9L1108.9 1395.3L1113.9 1395.7L1118.9 1396L1123.9 1396.4L1128.9 1396.7L1133.9 1397.1L1138.9 1397.4L1143.9 1397.7L1148.9 1398L1153.9 1398.3L1158.9 1398.6L1163.9 1398.9L1168.9 1399.2L1173.9 1399.5L1178.9 1399.8L1183.9 1400.1L1188.9 1400.4L1193.9 1400.7L1198.9 1401L1203.9 1401.3L1208.9 1401.5L1213.9 1401.8L1218.9 1402L1223.9 1402.2L1228.9 1402.5L1233.9 1402.6L1238.9 1402.8L1243.9 1403L1248.9 1403.2L1253.9 1403.3L1258.9 1403.5L1263.9 1403.7L1268.9 1403.8L1273.9 1404L1278.9 1404.1L1283.9 1404.2L1288.9 1404.4L1293.9 1404.5L1298.9 1404.6L1303.9 1404.7L1308.9 1404.9L1313.9 1405L1318.9 1405.1L1323.9 1405.2L1328.9 1405.3L1333.9 1405.4L1338.9 1405.5L1343.9 1405.6L1348.9 1405.7L1353.9 1405.8L1358.9 1405.9L1363.9 1406L1368.9 1406.1L1373.9 1406.2L1378.9 1406.3L1383.9 1406.4L1388.9 1406.5L1393.9 1406.5L1398.9 1406.6L1403.9 1406.7L1408.9 1406.8L1413.9 1406.9L1418.9 1407L1423.9 1407.1L1428.9 1407.2L1433.9 1407.3L1438.9 1407.4L1443.9 1407.5L1448.9 1407.6L1453.9 1407.7L1458.9 1407.8L1463.9 1407.9L1468.9 1408L1473.9 1408.1L1478.9 1408.2L1483.9 1408.2L1488.9 1408.3L1493.9 1408.4L1498.9 1408.5L1503.9 1408.6L1508.9 1408.7L1513.9 1408.8L1518.9 1408.9L1523.9 1409L1525 1409" fill="none" stroke="#5ec962" stroke-width="5.2" stroke-linejoin="round"/>
<path d="M913 1307L921.3 1307L923.5 1312L927 1329L930 1338.6L933 1335L938.2 1328.7L952.7 1317.8L964 1309.2L969 1305.2L974 1301.3L979 1297.6L984 1294.1L989 1290.8L994 1287.7L999 1284.7L1004 1281.9L1009 1279.1L1014 1276.4L1019 1273.8L1024 1271.3L1029 1268.8L1034 1266.4L1039 1264.1L1044 1261.8L1049 1259.6L1054 1257.4L1059 1255.3L1064 1253.1L1069 1250.9L1074 1248.8L1079 1246.7L1084 1244.8L1089 1243L1094 1241.4L1099 1239.8L1104 1237.9L1109 1235.9L1114 1234L1119 1232.3L1124 1230.8L1129 1229.3L1134 1227.8L1139 1226.3L1144 1224.9L1149 1223.4L1154 1222L1159 1220.6L1164 1219.2L1169 1217.8L1174 1216.5L1179 1215.1L1184 1213.6L1189 1212.1L1194 1210.7L1199 1209.5L1204 1208.4L1209 1207.3L1214 1206.2L1219 1205.2L1224 1204.3L1229 1203.5L1234 1202.7L1239 1202L1244 1201.3L1249 1200.6L1254 1199.9L1259 1199.2L1264 1198.5L1269 1197.8L1274 1197.2L1279 1196.6L1284 1196.1L1289 1195.7L1294 1195.3L1299 1194.9L1304 1194.6L1309 1194.2L1314 1193.8L1319 1193.4L1324 1193L1329 1192.6L1334 1192.2L1339 1191.8L1344 1191.4L1349 1191L1354 1190.6L1359 1190.1L1364 1189.7L1369 1189.2L1374 1188.7L1379 1188.3L1384 1187.8L1389 1187.3L1394 1186.8L1399 1186.3L1404 1185.7L1409 1185.2L1414 1184.6L1419 1184.1L1424 1183.5L1429 1182.9L1434 1182.3L1439 1181.7L1444 1181.1L1449 1180.5L1454 1179.9L1459 1179.2L1464 1178.5L1469 1177.9L1474 1177.2L1479 1176.5L1484 1175.8L1489 1175.1L1494 1174.4L1499 1173.7L1504 1173L1509 1172.2L1514 1171.5L1519 1170.7L1524 1170L1525 1169.8" fill="none" stroke="#fde725" stroke-width="5.2" stroke-linejoin="round"/>
<path d="M913 1148.8L927.7 1148.8L930 1152L934 1164.8L938 1170.5L942.6 1174.4L947.5 1177.8L953.2 1179.3L958.5 1179L963.9 1177.5L968.9 1175.7L973.9 1174L978.9 1172.2L983.9 1170.5L988.9 1168.9L993.9 1167.2L998.9 1165.6L1003.9 1163.9L1008.9 1162.3L1013.9 1160.7L1018.9 1159.1L1023.9 1157.5L1028.9 1155.9L1033.9 1154.3L1038.9 1152.8L1043.9 1151.2L1048.9 1149.6L1053.9 1148.1L1058.9 1146.5L1063.9 1145L1068.9 1143.4L1073.9 1141.9L1078.9 1140.4L1083.9 1138.8L1088.9 1137.3L1093.9 1135.8L1098.9 1134.3L1103.9 1132.8L1108.9 1131.4L1113.9 1130L1118.9 1128.7L1123.9 1127.3L1128.9 1126L1133.9 1124.7L1138.9 1123.4L1143.9 1122.2L1148.9 1121L1153.9 1119.9L1158.9 1118.9L1163.9 1118L1168.9 1117L1173.9 1116.2L1178.9 1115.3L1183.9 1114.5L1188.9 1113.7L1193.9 1112.9L1198.9 1112.2L1203.9 1111.4L1208.9 1110.7L1213.9 1109.9L1218.9 1109.2L1223.9 1108.5L1228.9 1107.8L1233.9 1107.2L1238.9 1106.6L1243.9 1106.1L1248.9 1105.6L1253.9 1105.1L1258.9 1104.7L1263.9 1104.3L1268.9 1103.9L1273.9 1103.6L1278.9 1103.3L1283.9 1103L1288.9 1102.7L1293.9 1102.4L1298.9 1102.2L1303.9 1102.1L1308.9 1102L1313.9 1101.9L1318.9 1101.8L1323.9 1101.7L1328.9 1101.6L1333.9 1101.6L1338.9 1101.5L1343.9 1101.5L1348.9 1101.5L1353.9 1101.5L1358.9 1101.6L1363.9 1101.6L1368.9 1101.7L1373.9 1101.8L1378.9 1101.9L1383.9 1102L1388.9 1102L1393.9 1102L1398.9 1101.9L1403.9 1101.8L1408.9 1101.7L1413.9 1101.5L1418.9 1101.4L1423.9 1101.2L1428.9 1101L1433.9 1100.8L1438.9 1100.6L1443.9 1100.4L1448.9 1100.1L1453.9 1099.9L1458.9 1099.6L1463.9 1099.4L1468.9 1099.1L1473.9 1098.8L1478.9 1098.5L1483.9 1098.2L1488.9 1097.9L1493.9 1097.6L1498.9 1097.3L1503.9 1096.9L1508.9 1096.6L1513.9 1096.3L1518.9 1096L1523.9 1095.7L1525 1095.6" fill="none" stroke="#000" stroke-width="5.2" stroke-linejoin="round"/>
</g>
<rect x="914.2" y="830" width="610.1" height="606.4" fill="none" stroke="#000" stroke-width="1.8"/>
<line x1="906" y1="1436.4" x2="914.2" y2="1436.4" stroke="#000" stroke-width="1.8"/>
<text font-size="32.7" transform="translate(884.02 1448) scale(0.918 1)" stroke-width="0.42">0</text>
<line x1="906" y1="1335.33" x2="914.2" y2="1335.33" stroke="#000" stroke-width="1.8"/>
<text font-size="32.7" transform="translate(869.01 1346.93) scale(0.918 1)" stroke-width="0.42">50</text>
<line x1="906" y1="1234.27" x2="914.2" y2="1234.27" stroke="#000" stroke-width="1.8"/>
<text font-size="32.7" transform="translate(854 1245.87) scale(0.918 1)" stroke-width="0.42">100</text>
<line x1="906" y1="1133.2" x2="914.2" y2="1133.2" stroke="#000" stroke-width="1.8"/>
<text font-size="32.7" transform="translate(854 1144.8) scale(0.918 1)" stroke-width="0.42">150</text>
<line x1="906" y1="1032.13" x2="914.2" y2="1032.13" stroke="#000" stroke-width="1.8"/>
<text font-size="32.7" transform="translate(854 1043.73) scale(0.918 1)" stroke-width="0.42">200</text>
<line x1="906" y1="931.07" x2="914.2" y2="931.07" stroke="#000" stroke-width="1.8"/>
<text font-size="32.7" transform="translate(854 942.67) scale(0.918 1)" stroke-width="0.42">250</text>
<line x1="906" y1="830" x2="914.2" y2="830" stroke="#000" stroke-width="1.8"/>
<text font-size="32.7" transform="translate(854 841.6) scale(0.918 1)" stroke-width="0.42">300</text>
<line x1="914.2" y1="1436.4" x2="914.2" y2="1444.6" stroke="#000" stroke-width="1.8"/>
<text font-size="32.7" transform="translate(906.7 1473.1) scale(0.918 1)" stroke-width="0.42">0</text>
<line x1="1066.72" y1="1436.4" x2="1066.72" y2="1444.6" stroke="#000" stroke-width="1.8"/>
<text font-size="32.7" transform="translate(1058.81 1473.1) scale(0.918 1)" stroke-width="0.42">1</text>
<line x1="1219.25" y1="1436.4" x2="1219.25" y2="1444.6" stroke="#000" stroke-width="1.8"/>
<text font-size="32.7" transform="translate(1211.93 1473.1) scale(0.918 1)" stroke-width="0.42">2</text>
<line x1="1371.78" y1="1436.4" x2="1371.78" y2="1444.6" stroke="#000" stroke-width="1.8"/>
<text font-size="32.7" transform="translate(1364.16 1473.1) scale(0.918 1)" stroke-width="0.42">3</text>
<line x1="1524.3" y1="1436.4" x2="1524.3" y2="1444.6" stroke="#000" stroke-width="1.8"/>
<text font-size="32.7" transform="translate(1516.72 1473.1) scale(0.918 1)" stroke-width="0.42">4</text>
<rect x="931.8" y="847.9" width="413.6" height="156" fill="#fff" stroke="#232323" stroke-width="1.9" rx="4.6"/>
<line x1="942.8" y1="874.1" x2="1018.4" y2="874.1" stroke="#440154" stroke-width="5.2"/>
<line x1="942.8" y1="922.7" x2="1018.4" y2="922.7" stroke="#3b528b" stroke-width="5.2"/>
<line x1="942.8" y1="971.3" x2="1018.4" y2="971.3" stroke="#21918c" stroke-width="5.2"/>
<line x1="1172.1" y1="874.1" x2="1247.8" y2="874.1" stroke="#5ec962" stroke-width="5.2"/>
<line x1="1172.1" y1="922.7" x2="1247.8" y2="922.7" stroke="#fde725" stroke-width="5.2"/>
<line x1="1172.1" y1="971.3" x2="1247.8" y2="971.3" stroke="#000" stroke-width="5.2"/>
<text font-size="33.11" transform="translate(1046.37 886.16) scale(0.9282 1)" font-style="italic" stroke-width="0.42">ρ</text>
<text font-size="24.2" transform="translate(1061.3 891) scale(1.0645 1)" font-style="italic" stroke-width="0.3">mob</text>
<text font-size="33.11" transform="translate(1275.17 886.16) scale(0.9282 1)" font-style="italic" stroke-width="0.42">ρ</text>
<text font-size="24.2" transform="translate(1291.65 891) scale(1.1463 1)" font-style="italic" stroke-width="0.3">sta</text>
<text font-size="33.11" transform="translate(1275.17 935.16) scale(0.9282 1)" font-style="italic" stroke-width="0.42">ρ</text>
<text font-size="24.2" transform="translate(1289.93 940) scale(1.1588 1)" font-style="italic" stroke-width="0.3">lom</text>
<text font-size="33.11" transform="translate(1275.17 984.16) scale(0.9282 1)" font-style="italic" stroke-width="0.42">ρ</text>
<text font-size="24.2" transform="translate(1290.8 989) scale(1.1033 1)" font-style="italic" stroke-width="0.3">tot</text>
<text font-size="33.7" transform="translate(1044.46 935.1) scale(1.0625 1)" font-style="italic" stroke-width="0.42">κ</text>
<text font-size="22.88" transform="translate(1063.11 940.4) scale(0.9424 1)" stroke-width="0.28">1</text>
<text font-size="33.7" transform="translate(1044.46 984.1) scale(1.0625 1)" font-style="italic" stroke-width="0.42">κ</text>
<text font-size="22.34" transform="translate(1062.76 989) scale(1.2011 1)" stroke-width="0.27">2</text>
<text font-size="34.58" transform="translate(1181.58 1514.55) scale(1.048 1)" font-style="italic" stroke-width="0.42">ε</text>
<text font-size="41.57" transform="translate(1211.31 1516.89) scale(0.5731 1)" stroke-width="0.42">[</text>
<text font-size="41.33" transform="translate(1219.47 1515.68) scale(0.7844 1)" stroke-width="0.42">%</text>
<text font-size="41.57" transform="translate(1246.59 1516.89) scale(0.556 1)" stroke-width="0.42">]</text>
<text font-size="32.53" transform="translate(837.19 1196.46) rotate(-90) scale(1.0356 1)" font-style="italic" stroke-width="0.42">ρ</text>
<text font-size="41.93" transform="translate(839.64 1167.69) rotate(-90) scale(0.5681 1)" stroke-width="0.42">[</text>
<text font-size="33" transform="translate(837.2 1156.5) rotate(-90) scale(1.1404 1)" font-style="italic" stroke-width="0.42">μm</text>
<text font-size="36" transform="translate(828.67 1107.98) rotate(-90) scale(0.6571 1)" stroke-width="0.42">−</text>
<text font-size="22.19" transform="translate(823.5 1094.49) rotate(-90) scale(1.366 1)" stroke-width="0.27">2</text>
<text font-size="41.93" transform="translate(839.64 1076.67) rotate(-90) scale(0.4558 1)" stroke-width="0.42">]</text>
</g>
</svg>
</body></html>
